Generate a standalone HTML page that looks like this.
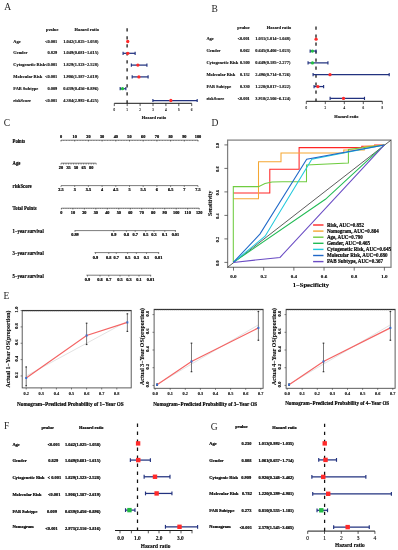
<!DOCTYPE html>
<html><head><meta charset="utf-8"><style>
html,body{margin:0;padding:0;background:#fff;}
svg{display:block;filter:blur(0.3px);}
text{font-family:"Liberation Serif",serif;stroke:#000;stroke-width:0.1px;}
</style></head><body>
<svg width="398" height="550" viewBox="0 0 398 550">
<rect width="398" height="550" fill="#fff"/>
<text x="4.3" y="9.5" font-size="9.5" font-weight="normal" fill="#222" style="stroke:none">A</text>
<text x="52.20" y="31.40" font-size="4.4" text-anchor="middle" font-weight="bold" fill="#000" >pvalue</text>
<text x="86.70" y="31.40" font-size="4.4" text-anchor="middle" font-weight="bold" fill="#000" >Hazard ratio</text>
<text x="13.30" y="42.60" font-size="4.4" text-anchor="start" font-weight="bold" fill="#000" >Age</text>
<text x="57.30" y="42.60" font-size="4.4" text-anchor="end" font-weight="bold" fill="#000" >&lt;0.001</text>
<text x="63.30" y="42.60" font-size="4.4" text-anchor="start" font-weight="bold" fill="#000" >1.042(1.025−1.058)</text>
<text x="13.30" y="54.40" font-size="4.4" text-anchor="start" font-weight="bold" fill="#000" >Gender</text>
<text x="57.30" y="54.40" font-size="4.4" text-anchor="end" font-weight="bold" fill="#000" >0.829</text>
<text x="63.30" y="54.40" font-size="4.4" text-anchor="start" font-weight="bold" fill="#000" >1.049(0.681−1.615)</text>
<text x="13.30" y="66.20" font-size="4.4" text-anchor="start" font-weight="bold" fill="#000" >Cytogenetic Risk</text>
<text x="57.30" y="66.20" font-size="4.4" text-anchor="end" font-weight="bold" fill="#000" >&lt;0.001</text>
<text x="63.30" y="66.20" font-size="4.4" text-anchor="start" font-weight="bold" fill="#000" >1.829(1.323−2.528)</text>
<text x="13.30" y="78.00" font-size="4.4" text-anchor="start" font-weight="bold" fill="#000" >Molecular Risk</text>
<text x="57.30" y="78.00" font-size="4.4" text-anchor="end" font-weight="bold" fill="#000" >&lt;0.001</text>
<text x="63.30" y="78.00" font-size="4.4" text-anchor="start" font-weight="bold" fill="#000" >1.906(1.387−2.619)</text>
<text x="13.30" y="89.80" font-size="4.4" text-anchor="start" font-weight="bold" fill="#000" >FAB Subtype</text>
<text x="57.30" y="89.80" font-size="4.4" text-anchor="end" font-weight="bold" fill="#000" >0.009</text>
<text x="63.30" y="89.80" font-size="4.4" text-anchor="start" font-weight="bold" fill="#000" >0.639(0.456−0.896)</text>
<text x="13.30" y="101.60" font-size="4.4" text-anchor="start" font-weight="bold" fill="#000" >riskScore</text>
<text x="57.30" y="101.60" font-size="4.4" text-anchor="end" font-weight="bold" fill="#000" >&lt;0.001</text>
<text x="63.30" y="101.60" font-size="4.4" text-anchor="start" font-weight="bold" fill="#000" >4.384(2.992−6.425)</text>
<line x1="127.10" y1="28.20" x2="127.10" y2="103.30" stroke="#111" stroke-width="1.25" stroke-dasharray="3.3,4.7"/>
<line x1="114.30" y1="103.30" x2="191.70" y2="103.30" stroke="#1a1a1a" stroke-width="1.0" />
<line x1="114.30" y1="103.30" x2="114.30" y2="106.10" stroke="#222" stroke-width="0.75" />
<line x1="127.20" y1="103.30" x2="127.20" y2="106.10" stroke="#222" stroke-width="0.75" />
<line x1="140.10" y1="103.30" x2="140.10" y2="106.10" stroke="#222" stroke-width="0.75" />
<line x1="153.00" y1="103.30" x2="153.00" y2="106.10" stroke="#222" stroke-width="0.75" />
<line x1="165.90" y1="103.30" x2="165.90" y2="106.10" stroke="#222" stroke-width="0.75" />
<line x1="178.80" y1="103.30" x2="178.80" y2="106.10" stroke="#222" stroke-width="0.75" />
<line x1="191.70" y1="103.30" x2="191.70" y2="106.10" stroke="#222" stroke-width="0.75" />
<text x="114.30" y="110.72" font-size="3.3" text-anchor="middle" font-weight="normal" fill="#000" >0</text>
<text x="127.20" y="110.72" font-size="3.3" text-anchor="middle" font-weight="normal" fill="#000" >1</text>
<text x="140.10" y="110.72" font-size="3.3" text-anchor="middle" font-weight="normal" fill="#000" >2</text>
<text x="153.00" y="110.72" font-size="3.3" text-anchor="middle" font-weight="normal" fill="#000" >3</text>
<text x="165.90" y="110.72" font-size="3.3" text-anchor="middle" font-weight="normal" fill="#000" >4</text>
<text x="178.80" y="110.72" font-size="3.3" text-anchor="middle" font-weight="normal" fill="#000" >5</text>
<text x="191.70" y="110.72" font-size="3.3" text-anchor="middle" font-weight="normal" fill="#000" >6</text>
<text x="154.00" y="119.10" font-size="4.4" text-anchor="middle" font-weight="bold" fill="#000" >Hazard ratio</text>
<circle cx="127.74" cy="41.50" r="1.65" fill="#ff2a2a"/>
<line x1="123.08" y1="53.30" x2="135.13" y2="53.30" stroke="#22327f" stroke-width="1.25" />
<line x1="123.08" y1="51.70" x2="123.08" y2="54.90" stroke="#22327f" stroke-width="1.15" />
<line x1="135.13" y1="51.70" x2="135.13" y2="54.90" stroke="#22327f" stroke-width="1.15" />
<circle cx="127.83" cy="53.30" r="1.65" fill="#ff2a2a"/>
<line x1="131.37" y1="65.10" x2="146.91" y2="65.10" stroke="#22327f" stroke-width="1.25" />
<line x1="131.37" y1="63.50" x2="131.37" y2="66.70" stroke="#22327f" stroke-width="1.15" />
<line x1="146.91" y1="63.50" x2="146.91" y2="66.70" stroke="#22327f" stroke-width="1.15" />
<circle cx="137.89" cy="65.10" r="1.65" fill="#ff2a2a"/>
<line x1="132.19" y1="76.90" x2="148.09" y2="76.90" stroke="#22327f" stroke-width="1.25" />
<line x1="132.19" y1="75.30" x2="132.19" y2="78.50" stroke="#22327f" stroke-width="1.15" />
<line x1="148.09" y1="75.30" x2="148.09" y2="78.50" stroke="#22327f" stroke-width="1.15" />
<circle cx="138.89" cy="76.90" r="1.65" fill="#ff2a2a"/>
<line x1="120.18" y1="88.70" x2="125.86" y2="88.70" stroke="#22327f" stroke-width="1.25" />
<line x1="120.18" y1="87.10" x2="120.18" y2="90.30" stroke="#22327f" stroke-width="1.15" />
<line x1="125.86" y1="87.10" x2="125.86" y2="90.30" stroke="#22327f" stroke-width="1.15" />
<circle cx="122.54" cy="88.70" r="1.65" fill="#22bb44"/>
<line x1="152.90" y1="100.50" x2="197.18" y2="100.50" stroke="#22327f" stroke-width="1.25" />
<line x1="152.90" y1="98.90" x2="152.90" y2="102.10" stroke="#22327f" stroke-width="1.15" />
<line x1="197.18" y1="98.90" x2="197.18" y2="102.10" stroke="#22327f" stroke-width="1.15" />
<circle cx="170.85" cy="100.50" r="1.65" fill="#ff2a2a"/>
<text x="211.6" y="11.8" font-size="9.5" font-weight="normal" fill="#222" style="stroke:none">B</text>
<text x="243.50" y="28.50" font-size="4.4" text-anchor="middle" font-weight="bold" fill="#000" >pvalue</text>
<text x="279.00" y="28.50" font-size="4.4" text-anchor="middle" font-weight="bold" fill="#000" >Hazard ratio</text>
<text x="206.40" y="40.30" font-size="4.4" text-anchor="start" font-weight="bold" fill="#000" >Age</text>
<text x="249.80" y="40.30" font-size="4.4" text-anchor="end" font-weight="bold" fill="#000" >&lt;0.001</text>
<text x="255.30" y="40.30" font-size="4.4" text-anchor="start" font-weight="bold" fill="#000" >1.031(1.014−1.048)</text>
<text x="206.40" y="52.14" font-size="4.4" text-anchor="start" font-weight="bold" fill="#000" >Gender</text>
<text x="249.80" y="52.14" font-size="4.4" text-anchor="end" font-weight="bold" fill="#000" >0.062</text>
<text x="255.30" y="52.14" font-size="4.4" text-anchor="start" font-weight="bold" fill="#000" >0.645(0.406−1.023)</text>
<text x="206.40" y="63.98" font-size="4.4" text-anchor="start" font-weight="bold" fill="#000" >Cytogenetic Risk</text>
<text x="249.80" y="63.98" font-size="4.4" text-anchor="end" font-weight="bold" fill="#000" >0.500</text>
<text x="255.30" y="63.98" font-size="4.4" text-anchor="start" font-weight="bold" fill="#000" >0.649(0.185−2.277)</text>
<text x="206.40" y="75.82" font-size="4.4" text-anchor="start" font-weight="bold" fill="#000" >Molecular Risk</text>
<text x="249.80" y="75.82" font-size="4.4" text-anchor="end" font-weight="bold" fill="#000" >0.152</text>
<text x="255.30" y="75.82" font-size="4.4" text-anchor="start" font-weight="bold" fill="#000" >2.496(0.714−8.726)</text>
<text x="206.40" y="87.66" font-size="4.4" text-anchor="start" font-weight="bold" fill="#000" >FAB Subtype</text>
<text x="249.80" y="87.66" font-size="4.4" text-anchor="end" font-weight="bold" fill="#000" >0.330</text>
<text x="255.30" y="87.66" font-size="4.4" text-anchor="start" font-weight="bold" fill="#000" >1.220(0.817−1.822)</text>
<text x="206.40" y="99.50" font-size="4.4" text-anchor="start" font-weight="bold" fill="#000" >riskScore</text>
<text x="249.80" y="99.50" font-size="4.4" text-anchor="end" font-weight="bold" fill="#000" >&lt;0.001</text>
<text x="255.30" y="99.50" font-size="4.4" text-anchor="start" font-weight="bold" fill="#000" >3.918(2.506−6.124)</text>
<line x1="316.00" y1="26.40" x2="316.00" y2="101.30" stroke="#111" stroke-width="1.25" stroke-dasharray="3.3,4.7"/>
<line x1="306.30" y1="101.30" x2="382.30" y2="101.30" stroke="#1a1a1a" stroke-width="1.0" />
<line x1="306.30" y1="101.30" x2="306.30" y2="104.10" stroke="#222" stroke-width="0.75" />
<line x1="325.30" y1="101.30" x2="325.30" y2="104.10" stroke="#222" stroke-width="0.75" />
<line x1="344.30" y1="101.30" x2="344.30" y2="104.10" stroke="#222" stroke-width="0.75" />
<line x1="363.30" y1="101.30" x2="363.30" y2="104.10" stroke="#222" stroke-width="0.75" />
<line x1="382.30" y1="101.30" x2="382.30" y2="104.10" stroke="#222" stroke-width="0.75" />
<text x="306.30" y="108.52" font-size="3.3" text-anchor="middle" font-weight="normal" fill="#000" >0</text>
<text x="325.30" y="108.52" font-size="3.3" text-anchor="middle" font-weight="normal" fill="#000" >2</text>
<text x="344.30" y="108.52" font-size="3.3" text-anchor="middle" font-weight="normal" fill="#000" >4</text>
<text x="363.30" y="108.52" font-size="3.3" text-anchor="middle" font-weight="normal" fill="#000" >6</text>
<text x="382.30" y="108.52" font-size="3.3" text-anchor="middle" font-weight="normal" fill="#000" >8</text>
<text x="346.40" y="117.60" font-size="4.4" text-anchor="middle" font-weight="bold" fill="#000" >Hazard ratio</text>
<circle cx="316.09" cy="39.20" r="1.65" fill="#ff2a2a"/>
<line x1="310.16" y1="51.04" x2="316.02" y2="51.04" stroke="#22327f" stroke-width="1.25" />
<line x1="310.16" y1="49.44" x2="310.16" y2="52.64" stroke="#22327f" stroke-width="1.15" />
<line x1="316.02" y1="49.44" x2="316.02" y2="52.64" stroke="#22327f" stroke-width="1.15" />
<circle cx="312.43" cy="51.04" r="1.65" fill="#22bb44"/>
<line x1="308.06" y1="62.88" x2="327.93" y2="62.88" stroke="#22327f" stroke-width="1.25" />
<line x1="308.06" y1="61.28" x2="308.06" y2="64.48" stroke="#22327f" stroke-width="1.15" />
<line x1="327.93" y1="61.28" x2="327.93" y2="64.48" stroke="#22327f" stroke-width="1.15" />
<circle cx="312.47" cy="62.88" r="1.65" fill="#22bb44"/>
<line x1="313.08" y1="74.72" x2="389.20" y2="74.72" stroke="#22327f" stroke-width="1.25" />
<line x1="313.08" y1="73.12" x2="313.08" y2="76.32" stroke="#22327f" stroke-width="1.15" />
<line x1="389.20" y1="73.12" x2="389.20" y2="76.32" stroke="#22327f" stroke-width="1.15" />
<circle cx="330.01" cy="74.72" r="1.65" fill="#ff2a2a"/>
<line x1="314.06" y1="86.56" x2="323.61" y2="86.56" stroke="#22327f" stroke-width="1.25" />
<line x1="314.06" y1="84.96" x2="314.06" y2="88.16" stroke="#22327f" stroke-width="1.15" />
<line x1="323.61" y1="84.96" x2="323.61" y2="88.16" stroke="#22327f" stroke-width="1.15" />
<circle cx="317.89" cy="86.56" r="1.65" fill="#ff2a2a"/>
<line x1="330.11" y1="98.40" x2="364.48" y2="98.40" stroke="#22327f" stroke-width="1.25" />
<line x1="330.11" y1="96.80" x2="330.11" y2="100.00" stroke="#22327f" stroke-width="1.15" />
<line x1="364.48" y1="96.80" x2="364.48" y2="100.00" stroke="#22327f" stroke-width="1.15" />
<circle cx="343.52" cy="98.40" r="1.65" fill="#ff2a2a"/>
<text x="3.8" y="126.3" font-size="9.5" font-weight="normal" fill="#222" style="stroke:none">C</text>
<text transform="translate(12.6 143.10) scale(1 1.2)" font-size="4.7" font-weight="bold" style="stroke-width:0.15px">Points</text>
<line x1="61.00" y1="140.20" x2="198.00" y2="140.20" stroke="#222" stroke-width="0.6" />
<line x1="61.00" y1="140.20" x2="61.00" y2="141.60" stroke="#222" stroke-width="0.5" />
<line x1="74.70" y1="140.20" x2="74.70" y2="141.60" stroke="#222" stroke-width="0.5" />
<line x1="88.40" y1="140.20" x2="88.40" y2="141.60" stroke="#222" stroke-width="0.5" />
<line x1="102.10" y1="140.20" x2="102.10" y2="141.60" stroke="#222" stroke-width="0.5" />
<line x1="115.80" y1="140.20" x2="115.80" y2="141.60" stroke="#222" stroke-width="0.5" />
<line x1="129.50" y1="140.20" x2="129.50" y2="141.60" stroke="#222" stroke-width="0.5" />
<line x1="143.20" y1="140.20" x2="143.20" y2="141.60" stroke="#222" stroke-width="0.5" />
<line x1="156.90" y1="140.20" x2="156.90" y2="141.60" stroke="#222" stroke-width="0.5" />
<line x1="170.60" y1="140.20" x2="170.60" y2="141.60" stroke="#222" stroke-width="0.5" />
<line x1="184.30" y1="140.20" x2="184.30" y2="141.60" stroke="#222" stroke-width="0.5" />
<line x1="198.00" y1="140.20" x2="198.00" y2="141.60" stroke="#222" stroke-width="0.5" />
<line x1="61.00" y1="140.20" x2="61.00" y2="141.00" stroke="#222" stroke-width="0.4" />
<line x1="63.74" y1="140.20" x2="63.74" y2="141.00" stroke="#222" stroke-width="0.4" />
<line x1="66.48" y1="140.20" x2="66.48" y2="141.00" stroke="#222" stroke-width="0.4" />
<line x1="69.22" y1="140.20" x2="69.22" y2="141.00" stroke="#222" stroke-width="0.4" />
<line x1="71.96" y1="140.20" x2="71.96" y2="141.00" stroke="#222" stroke-width="0.4" />
<line x1="74.70" y1="140.20" x2="74.70" y2="141.00" stroke="#222" stroke-width="0.4" />
<line x1="77.44" y1="140.20" x2="77.44" y2="141.00" stroke="#222" stroke-width="0.4" />
<line x1="80.18" y1="140.20" x2="80.18" y2="141.00" stroke="#222" stroke-width="0.4" />
<line x1="82.92" y1="140.20" x2="82.92" y2="141.00" stroke="#222" stroke-width="0.4" />
<line x1="85.66" y1="140.20" x2="85.66" y2="141.00" stroke="#222" stroke-width="0.4" />
<line x1="88.40" y1="140.20" x2="88.40" y2="141.00" stroke="#222" stroke-width="0.4" />
<line x1="91.14" y1="140.20" x2="91.14" y2="141.00" stroke="#222" stroke-width="0.4" />
<line x1="93.88" y1="140.20" x2="93.88" y2="141.00" stroke="#222" stroke-width="0.4" />
<line x1="96.62" y1="140.20" x2="96.62" y2="141.00" stroke="#222" stroke-width="0.4" />
<line x1="99.36" y1="140.20" x2="99.36" y2="141.00" stroke="#222" stroke-width="0.4" />
<line x1="102.10" y1="140.20" x2="102.10" y2="141.00" stroke="#222" stroke-width="0.4" />
<line x1="104.84" y1="140.20" x2="104.84" y2="141.00" stroke="#222" stroke-width="0.4" />
<line x1="107.58" y1="140.20" x2="107.58" y2="141.00" stroke="#222" stroke-width="0.4" />
<line x1="110.32" y1="140.20" x2="110.32" y2="141.00" stroke="#222" stroke-width="0.4" />
<line x1="113.06" y1="140.20" x2="113.06" y2="141.00" stroke="#222" stroke-width="0.4" />
<line x1="115.80" y1="140.20" x2="115.80" y2="141.00" stroke="#222" stroke-width="0.4" />
<line x1="118.54" y1="140.20" x2="118.54" y2="141.00" stroke="#222" stroke-width="0.4" />
<line x1="121.28" y1="140.20" x2="121.28" y2="141.00" stroke="#222" stroke-width="0.4" />
<line x1="124.02" y1="140.20" x2="124.02" y2="141.00" stroke="#222" stroke-width="0.4" />
<line x1="126.76" y1="140.20" x2="126.76" y2="141.00" stroke="#222" stroke-width="0.4" />
<line x1="129.50" y1="140.20" x2="129.50" y2="141.00" stroke="#222" stroke-width="0.4" />
<line x1="132.24" y1="140.20" x2="132.24" y2="141.00" stroke="#222" stroke-width="0.4" />
<line x1="134.98" y1="140.20" x2="134.98" y2="141.00" stroke="#222" stroke-width="0.4" />
<line x1="137.72" y1="140.20" x2="137.72" y2="141.00" stroke="#222" stroke-width="0.4" />
<line x1="140.46" y1="140.20" x2="140.46" y2="141.00" stroke="#222" stroke-width="0.4" />
<line x1="143.20" y1="140.20" x2="143.20" y2="141.00" stroke="#222" stroke-width="0.4" />
<line x1="145.94" y1="140.20" x2="145.94" y2="141.00" stroke="#222" stroke-width="0.4" />
<line x1="148.68" y1="140.20" x2="148.68" y2="141.00" stroke="#222" stroke-width="0.4" />
<line x1="151.42" y1="140.20" x2="151.42" y2="141.00" stroke="#222" stroke-width="0.4" />
<line x1="154.16" y1="140.20" x2="154.16" y2="141.00" stroke="#222" stroke-width="0.4" />
<line x1="156.90" y1="140.20" x2="156.90" y2="141.00" stroke="#222" stroke-width="0.4" />
<line x1="159.64" y1="140.20" x2="159.64" y2="141.00" stroke="#222" stroke-width="0.4" />
<line x1="162.38" y1="140.20" x2="162.38" y2="141.00" stroke="#222" stroke-width="0.4" />
<line x1="165.12" y1="140.20" x2="165.12" y2="141.00" stroke="#222" stroke-width="0.4" />
<line x1="167.86" y1="140.20" x2="167.86" y2="141.00" stroke="#222" stroke-width="0.4" />
<line x1="170.60" y1="140.20" x2="170.60" y2="141.00" stroke="#222" stroke-width="0.4" />
<line x1="173.34" y1="140.20" x2="173.34" y2="141.00" stroke="#222" stroke-width="0.4" />
<line x1="176.08" y1="140.20" x2="176.08" y2="141.00" stroke="#222" stroke-width="0.4" />
<line x1="178.82" y1="140.20" x2="178.82" y2="141.00" stroke="#222" stroke-width="0.4" />
<line x1="181.56" y1="140.20" x2="181.56" y2="141.00" stroke="#222" stroke-width="0.4" />
<line x1="184.30" y1="140.20" x2="184.30" y2="141.00" stroke="#222" stroke-width="0.4" />
<line x1="187.04" y1="140.20" x2="187.04" y2="141.00" stroke="#222" stroke-width="0.4" />
<line x1="189.78" y1="140.20" x2="189.78" y2="141.00" stroke="#222" stroke-width="0.4" />
<line x1="192.52" y1="140.20" x2="192.52" y2="141.00" stroke="#222" stroke-width="0.4" />
<line x1="195.26" y1="140.20" x2="195.26" y2="141.00" stroke="#222" stroke-width="0.4" />
<line x1="198.00" y1="140.20" x2="198.00" y2="141.00" stroke="#222" stroke-width="0.4" />
<text transform="translate(61.00 138.20) scale(1 1.15)" font-size="4.3" font-weight="bold" text-anchor="middle" style="stroke-width:0.2px">0</text>
<text transform="translate(74.70 138.20) scale(1 1.15)" font-size="4.3" font-weight="bold" text-anchor="middle" style="stroke-width:0.2px">10</text>
<text transform="translate(88.40 138.20) scale(1 1.15)" font-size="4.3" font-weight="bold" text-anchor="middle" style="stroke-width:0.2px">20</text>
<text transform="translate(102.10 138.20) scale(1 1.15)" font-size="4.3" font-weight="bold" text-anchor="middle" style="stroke-width:0.2px">30</text>
<text transform="translate(115.80 138.20) scale(1 1.15)" font-size="4.3" font-weight="bold" text-anchor="middle" style="stroke-width:0.2px">40</text>
<text transform="translate(129.50 138.20) scale(1 1.15)" font-size="4.3" font-weight="bold" text-anchor="middle" style="stroke-width:0.2px">50</text>
<text transform="translate(143.20 138.20) scale(1 1.15)" font-size="4.3" font-weight="bold" text-anchor="middle" style="stroke-width:0.2px">60</text>
<text transform="translate(156.90 138.20) scale(1 1.15)" font-size="4.3" font-weight="bold" text-anchor="middle" style="stroke-width:0.2px">70</text>
<text transform="translate(170.60 138.20) scale(1 1.15)" font-size="4.3" font-weight="bold" text-anchor="middle" style="stroke-width:0.2px">80</text>
<text transform="translate(184.30 138.20) scale(1 1.15)" font-size="4.3" font-weight="bold" text-anchor="middle" style="stroke-width:0.2px">90</text>
<text transform="translate(198.00 138.20) scale(1 1.15)" font-size="4.3" font-weight="bold" text-anchor="middle" style="stroke-width:0.2px">100</text>
<text transform="translate(12.6 165.30) scale(1 1.2)" font-size="4.7" font-weight="bold" style="stroke-width:0.15px">Age</text>
<line x1="61.00" y1="163.20" x2="96.21" y2="163.20" stroke="#222" stroke-width="0.6" />
<line x1="61.00" y1="163.20" x2="61.00" y2="164.60" stroke="#222" stroke-width="0.5" />
<line x1="63.52" y1="163.20" x2="63.52" y2="164.60" stroke="#222" stroke-width="0.5" />
<line x1="66.03" y1="163.20" x2="66.03" y2="164.60" stroke="#222" stroke-width="0.5" />
<line x1="68.55" y1="163.20" x2="68.55" y2="164.60" stroke="#222" stroke-width="0.5" />
<line x1="71.06" y1="163.20" x2="71.06" y2="164.60" stroke="#222" stroke-width="0.5" />
<line x1="73.58" y1="163.20" x2="73.58" y2="164.60" stroke="#222" stroke-width="0.5" />
<line x1="76.09" y1="163.20" x2="76.09" y2="164.60" stroke="#222" stroke-width="0.5" />
<line x1="78.61" y1="163.20" x2="78.61" y2="164.60" stroke="#222" stroke-width="0.5" />
<line x1="81.12" y1="163.20" x2="81.12" y2="164.60" stroke="#222" stroke-width="0.5" />
<line x1="83.64" y1="163.20" x2="83.64" y2="164.60" stroke="#222" stroke-width="0.5" />
<line x1="86.15" y1="163.20" x2="86.15" y2="164.60" stroke="#222" stroke-width="0.5" />
<line x1="88.67" y1="163.20" x2="88.67" y2="164.60" stroke="#222" stroke-width="0.5" />
<line x1="91.18" y1="163.20" x2="91.18" y2="164.60" stroke="#222" stroke-width="0.5" />
<line x1="93.69" y1="163.20" x2="93.69" y2="164.60" stroke="#222" stroke-width="0.5" />
<line x1="96.21" y1="163.20" x2="96.21" y2="164.60" stroke="#222" stroke-width="0.5" />
<text transform="translate(61.00 169.20) scale(1 1.15)" font-size="4.3" font-weight="bold" text-anchor="middle" style="stroke-width:0.2px">20</text>
<text transform="translate(68.55 169.20) scale(1 1.15)" font-size="4.3" font-weight="bold" text-anchor="middle" style="stroke-width:0.2px">35</text>
<text transform="translate(76.09 169.20) scale(1 1.15)" font-size="4.3" font-weight="bold" text-anchor="middle" style="stroke-width:0.2px">50</text>
<text transform="translate(83.64 169.20) scale(1 1.15)" font-size="4.3" font-weight="bold" text-anchor="middle" style="stroke-width:0.2px">65</text>
<text transform="translate(91.18 169.20) scale(1 1.15)" font-size="4.3" font-weight="bold" text-anchor="middle" style="stroke-width:0.2px">80</text>
<text transform="translate(12.6 188.00) scale(1 1.2)" font-size="4.7" font-weight="bold" style="stroke-width:0.15px">riskScore</text>
<line x1="61.00" y1="185.60" x2="198.00" y2="185.60" stroke="#222" stroke-width="0.6" />
<line x1="61.00" y1="185.60" x2="61.00" y2="187.00" stroke="#222" stroke-width="0.5" />
<line x1="74.70" y1="185.60" x2="74.70" y2="187.00" stroke="#222" stroke-width="0.5" />
<line x1="88.40" y1="185.60" x2="88.40" y2="187.00" stroke="#222" stroke-width="0.5" />
<line x1="102.10" y1="185.60" x2="102.10" y2="187.00" stroke="#222" stroke-width="0.5" />
<line x1="115.80" y1="185.60" x2="115.80" y2="187.00" stroke="#222" stroke-width="0.5" />
<line x1="129.50" y1="185.60" x2="129.50" y2="187.00" stroke="#222" stroke-width="0.5" />
<line x1="143.20" y1="185.60" x2="143.20" y2="187.00" stroke="#222" stroke-width="0.5" />
<line x1="156.90" y1="185.60" x2="156.90" y2="187.00" stroke="#222" stroke-width="0.5" />
<line x1="170.60" y1="185.60" x2="170.60" y2="187.00" stroke="#222" stroke-width="0.5" />
<line x1="184.30" y1="185.60" x2="184.30" y2="187.00" stroke="#222" stroke-width="0.5" />
<line x1="198.00" y1="185.60" x2="198.00" y2="187.00" stroke="#222" stroke-width="0.5" />
<text transform="translate(61.00 191.40) scale(1 1.15)" font-size="4.3" font-weight="bold" text-anchor="middle" style="stroke-width:0.2px">2.5</text>
<text transform="translate(74.70 191.40) scale(1 1.15)" font-size="4.3" font-weight="bold" text-anchor="middle" style="stroke-width:0.2px">3</text>
<text transform="translate(88.40 191.40) scale(1 1.15)" font-size="4.3" font-weight="bold" text-anchor="middle" style="stroke-width:0.2px">3.5</text>
<text transform="translate(102.10 191.40) scale(1 1.15)" font-size="4.3" font-weight="bold" text-anchor="middle" style="stroke-width:0.2px">4</text>
<text transform="translate(115.80 191.40) scale(1 1.15)" font-size="4.3" font-weight="bold" text-anchor="middle" style="stroke-width:0.2px">4.5</text>
<text transform="translate(129.50 191.40) scale(1 1.15)" font-size="4.3" font-weight="bold" text-anchor="middle" style="stroke-width:0.2px">5</text>
<text transform="translate(143.20 191.40) scale(1 1.15)" font-size="4.3" font-weight="bold" text-anchor="middle" style="stroke-width:0.2px">5.5</text>
<text transform="translate(156.90 191.40) scale(1 1.15)" font-size="4.3" font-weight="bold" text-anchor="middle" style="stroke-width:0.2px">6</text>
<text transform="translate(170.60 191.40) scale(1 1.15)" font-size="4.3" font-weight="bold" text-anchor="middle" style="stroke-width:0.2px">6.5</text>
<text transform="translate(184.30 191.40) scale(1 1.15)" font-size="4.3" font-weight="bold" text-anchor="middle" style="stroke-width:0.2px">7</text>
<text transform="translate(198.00 191.40) scale(1 1.15)" font-size="4.3" font-weight="bold" text-anchor="middle" style="stroke-width:0.2px">7.5</text>
<text transform="translate(12.6 210.30) scale(1 1.2)" font-size="4.7" font-weight="bold" style="stroke-width:0.15px">Total Points</text>
<line x1="61.40" y1="208.20" x2="199.16" y2="208.20" stroke="#222" stroke-width="0.6" />
<line x1="61.40" y1="208.20" x2="61.40" y2="209.60" stroke="#222" stroke-width="0.5" />
<line x1="72.88" y1="208.20" x2="72.88" y2="209.60" stroke="#222" stroke-width="0.5" />
<line x1="84.36" y1="208.20" x2="84.36" y2="209.60" stroke="#222" stroke-width="0.5" />
<line x1="95.84" y1="208.20" x2="95.84" y2="209.60" stroke="#222" stroke-width="0.5" />
<line x1="107.32" y1="208.20" x2="107.32" y2="209.60" stroke="#222" stroke-width="0.5" />
<line x1="118.80" y1="208.20" x2="118.80" y2="209.60" stroke="#222" stroke-width="0.5" />
<line x1="130.28" y1="208.20" x2="130.28" y2="209.60" stroke="#222" stroke-width="0.5" />
<line x1="141.76" y1="208.20" x2="141.76" y2="209.60" stroke="#222" stroke-width="0.5" />
<line x1="153.24" y1="208.20" x2="153.24" y2="209.60" stroke="#222" stroke-width="0.5" />
<line x1="164.72" y1="208.20" x2="164.72" y2="209.60" stroke="#222" stroke-width="0.5" />
<line x1="176.20" y1="208.20" x2="176.20" y2="209.60" stroke="#222" stroke-width="0.5" />
<line x1="187.68" y1="208.20" x2="187.68" y2="209.60" stroke="#222" stroke-width="0.5" />
<line x1="199.16" y1="208.20" x2="199.16" y2="209.60" stroke="#222" stroke-width="0.5" />
<line x1="61.40" y1="208.20" x2="61.40" y2="209.00" stroke="#222" stroke-width="0.4" />
<line x1="63.70" y1="208.20" x2="63.70" y2="209.00" stroke="#222" stroke-width="0.4" />
<line x1="65.99" y1="208.20" x2="65.99" y2="209.00" stroke="#222" stroke-width="0.4" />
<line x1="68.29" y1="208.20" x2="68.29" y2="209.00" stroke="#222" stroke-width="0.4" />
<line x1="70.58" y1="208.20" x2="70.58" y2="209.00" stroke="#222" stroke-width="0.4" />
<line x1="72.88" y1="208.20" x2="72.88" y2="209.00" stroke="#222" stroke-width="0.4" />
<line x1="75.18" y1="208.20" x2="75.18" y2="209.00" stroke="#222" stroke-width="0.4" />
<line x1="77.47" y1="208.20" x2="77.47" y2="209.00" stroke="#222" stroke-width="0.4" />
<line x1="79.77" y1="208.20" x2="79.77" y2="209.00" stroke="#222" stroke-width="0.4" />
<line x1="82.06" y1="208.20" x2="82.06" y2="209.00" stroke="#222" stroke-width="0.4" />
<line x1="84.36" y1="208.20" x2="84.36" y2="209.00" stroke="#222" stroke-width="0.4" />
<line x1="86.66" y1="208.20" x2="86.66" y2="209.00" stroke="#222" stroke-width="0.4" />
<line x1="88.95" y1="208.20" x2="88.95" y2="209.00" stroke="#222" stroke-width="0.4" />
<line x1="91.25" y1="208.20" x2="91.25" y2="209.00" stroke="#222" stroke-width="0.4" />
<line x1="93.54" y1="208.20" x2="93.54" y2="209.00" stroke="#222" stroke-width="0.4" />
<line x1="95.84" y1="208.20" x2="95.84" y2="209.00" stroke="#222" stroke-width="0.4" />
<line x1="98.14" y1="208.20" x2="98.14" y2="209.00" stroke="#222" stroke-width="0.4" />
<line x1="100.43" y1="208.20" x2="100.43" y2="209.00" stroke="#222" stroke-width="0.4" />
<line x1="102.73" y1="208.20" x2="102.73" y2="209.00" stroke="#222" stroke-width="0.4" />
<line x1="105.02" y1="208.20" x2="105.02" y2="209.00" stroke="#222" stroke-width="0.4" />
<line x1="107.32" y1="208.20" x2="107.32" y2="209.00" stroke="#222" stroke-width="0.4" />
<line x1="109.62" y1="208.20" x2="109.62" y2="209.00" stroke="#222" stroke-width="0.4" />
<line x1="111.91" y1="208.20" x2="111.91" y2="209.00" stroke="#222" stroke-width="0.4" />
<line x1="114.21" y1="208.20" x2="114.21" y2="209.00" stroke="#222" stroke-width="0.4" />
<line x1="116.50" y1="208.20" x2="116.50" y2="209.00" stroke="#222" stroke-width="0.4" />
<line x1="118.80" y1="208.20" x2="118.80" y2="209.00" stroke="#222" stroke-width="0.4" />
<line x1="121.10" y1="208.20" x2="121.10" y2="209.00" stroke="#222" stroke-width="0.4" />
<line x1="123.39" y1="208.20" x2="123.39" y2="209.00" stroke="#222" stroke-width="0.4" />
<line x1="125.69" y1="208.20" x2="125.69" y2="209.00" stroke="#222" stroke-width="0.4" />
<line x1="127.98" y1="208.20" x2="127.98" y2="209.00" stroke="#222" stroke-width="0.4" />
<line x1="130.28" y1="208.20" x2="130.28" y2="209.00" stroke="#222" stroke-width="0.4" />
<line x1="132.58" y1="208.20" x2="132.58" y2="209.00" stroke="#222" stroke-width="0.4" />
<line x1="134.87" y1="208.20" x2="134.87" y2="209.00" stroke="#222" stroke-width="0.4" />
<line x1="137.17" y1="208.20" x2="137.17" y2="209.00" stroke="#222" stroke-width="0.4" />
<line x1="139.46" y1="208.20" x2="139.46" y2="209.00" stroke="#222" stroke-width="0.4" />
<line x1="141.76" y1="208.20" x2="141.76" y2="209.00" stroke="#222" stroke-width="0.4" />
<line x1="144.06" y1="208.20" x2="144.06" y2="209.00" stroke="#222" stroke-width="0.4" />
<line x1="146.35" y1="208.20" x2="146.35" y2="209.00" stroke="#222" stroke-width="0.4" />
<line x1="148.65" y1="208.20" x2="148.65" y2="209.00" stroke="#222" stroke-width="0.4" />
<line x1="150.94" y1="208.20" x2="150.94" y2="209.00" stroke="#222" stroke-width="0.4" />
<line x1="153.24" y1="208.20" x2="153.24" y2="209.00" stroke="#222" stroke-width="0.4" />
<line x1="155.54" y1="208.20" x2="155.54" y2="209.00" stroke="#222" stroke-width="0.4" />
<line x1="157.83" y1="208.20" x2="157.83" y2="209.00" stroke="#222" stroke-width="0.4" />
<line x1="160.13" y1="208.20" x2="160.13" y2="209.00" stroke="#222" stroke-width="0.4" />
<line x1="162.42" y1="208.20" x2="162.42" y2="209.00" stroke="#222" stroke-width="0.4" />
<line x1="164.72" y1="208.20" x2="164.72" y2="209.00" stroke="#222" stroke-width="0.4" />
<line x1="167.02" y1="208.20" x2="167.02" y2="209.00" stroke="#222" stroke-width="0.4" />
<line x1="169.31" y1="208.20" x2="169.31" y2="209.00" stroke="#222" stroke-width="0.4" />
<line x1="171.61" y1="208.20" x2="171.61" y2="209.00" stroke="#222" stroke-width="0.4" />
<line x1="173.90" y1="208.20" x2="173.90" y2="209.00" stroke="#222" stroke-width="0.4" />
<line x1="176.20" y1="208.20" x2="176.20" y2="209.00" stroke="#222" stroke-width="0.4" />
<line x1="178.50" y1="208.20" x2="178.50" y2="209.00" stroke="#222" stroke-width="0.4" />
<line x1="180.79" y1="208.20" x2="180.79" y2="209.00" stroke="#222" stroke-width="0.4" />
<line x1="183.09" y1="208.20" x2="183.09" y2="209.00" stroke="#222" stroke-width="0.4" />
<line x1="185.38" y1="208.20" x2="185.38" y2="209.00" stroke="#222" stroke-width="0.4" />
<line x1="187.68" y1="208.20" x2="187.68" y2="209.00" stroke="#222" stroke-width="0.4" />
<line x1="189.98" y1="208.20" x2="189.98" y2="209.00" stroke="#222" stroke-width="0.4" />
<line x1="192.27" y1="208.20" x2="192.27" y2="209.00" stroke="#222" stroke-width="0.4" />
<line x1="194.57" y1="208.20" x2="194.57" y2="209.00" stroke="#222" stroke-width="0.4" />
<line x1="196.86" y1="208.20" x2="196.86" y2="209.00" stroke="#222" stroke-width="0.4" />
<line x1="199.16" y1="208.20" x2="199.16" y2="209.00" stroke="#222" stroke-width="0.4" />
<text transform="translate(61.40 213.90) scale(1 1.15)" font-size="4.3" font-weight="bold" text-anchor="middle" style="stroke-width:0.2px">0</text>
<text transform="translate(72.88 213.90) scale(1 1.15)" font-size="4.3" font-weight="bold" text-anchor="middle" style="stroke-width:0.2px">10</text>
<text transform="translate(84.36 213.90) scale(1 1.15)" font-size="4.3" font-weight="bold" text-anchor="middle" style="stroke-width:0.2px">20</text>
<text transform="translate(95.84 213.90) scale(1 1.15)" font-size="4.3" font-weight="bold" text-anchor="middle" style="stroke-width:0.2px">30</text>
<text transform="translate(107.32 213.90) scale(1 1.15)" font-size="4.3" font-weight="bold" text-anchor="middle" style="stroke-width:0.2px">40</text>
<text transform="translate(118.80 213.90) scale(1 1.15)" font-size="4.3" font-weight="bold" text-anchor="middle" style="stroke-width:0.2px">50</text>
<text transform="translate(130.28 213.90) scale(1 1.15)" font-size="4.3" font-weight="bold" text-anchor="middle" style="stroke-width:0.2px">60</text>
<text transform="translate(141.76 213.90) scale(1 1.15)" font-size="4.3" font-weight="bold" text-anchor="middle" style="stroke-width:0.2px">70</text>
<text transform="translate(153.24 213.90) scale(1 1.15)" font-size="4.3" font-weight="bold" text-anchor="middle" style="stroke-width:0.2px">80</text>
<text transform="translate(164.72 213.90) scale(1 1.15)" font-size="4.3" font-weight="bold" text-anchor="middle" style="stroke-width:0.2px">90</text>
<text transform="translate(176.20 213.90) scale(1 1.15)" font-size="4.3" font-weight="bold" text-anchor="middle" style="stroke-width:0.2px">100</text>
<text transform="translate(187.68 213.90) scale(1 1.15)" font-size="4.3" font-weight="bold" text-anchor="middle" style="stroke-width:0.2px">110</text>
<text transform="translate(199.16 213.90) scale(1 1.15)" font-size="4.3" font-weight="bold" text-anchor="middle" style="stroke-width:0.2px">120</text>
<text transform="translate(12.6 232.60) scale(1 1.2)" font-size="4.7" font-weight="bold" style="stroke-width:0.15px">1−year survival</text>
<line x1="74.60" y1="230.60" x2="176.00" y2="230.60" stroke="#222" stroke-width="0.6" />
<line x1="75.00" y1="230.60" x2="75.00" y2="232.00" stroke="#222" stroke-width="0.5" />
<line x1="113.80" y1="230.60" x2="113.80" y2="232.00" stroke="#222" stroke-width="0.5" />
<line x1="126.40" y1="230.60" x2="126.40" y2="232.00" stroke="#222" stroke-width="0.5" />
<line x1="135.20" y1="230.60" x2="135.20" y2="232.00" stroke="#222" stroke-width="0.5" />
<line x1="145.70" y1="230.60" x2="145.70" y2="232.00" stroke="#222" stroke-width="0.5" />
<line x1="154.00" y1="230.60" x2="154.00" y2="232.00" stroke="#222" stroke-width="0.5" />
<line x1="164.80" y1="230.60" x2="164.80" y2="232.00" stroke="#222" stroke-width="0.5" />
<line x1="175.40" y1="230.60" x2="175.40" y2="232.00" stroke="#222" stroke-width="0.5" />
<text transform="translate(75.00 236.40) scale(1 1.15)" font-size="4.3" font-weight="bold" text-anchor="middle" style="stroke-width:0.2px">0.99</text>
<text transform="translate(113.80 236.40) scale(1 1.15)" font-size="4.3" font-weight="bold" text-anchor="middle" style="stroke-width:0.2px">0.9</text>
<text transform="translate(126.40 236.40) scale(1 1.15)" font-size="4.3" font-weight="bold" text-anchor="middle" style="stroke-width:0.2px">0.8</text>
<text transform="translate(135.20 236.40) scale(1 1.15)" font-size="4.3" font-weight="bold" text-anchor="middle" style="stroke-width:0.2px">0.7</text>
<text transform="translate(145.70 236.40) scale(1 1.15)" font-size="4.3" font-weight="bold" text-anchor="middle" style="stroke-width:0.2px">0.5</text>
<text transform="translate(154.00 236.40) scale(1 1.15)" font-size="4.3" font-weight="bold" text-anchor="middle" style="stroke-width:0.2px">0.3</text>
<text transform="translate(164.80 236.40) scale(1 1.15)" font-size="4.3" font-weight="bold" text-anchor="middle" style="stroke-width:0.2px">0.1</text>
<text transform="translate(175.40 236.40) scale(1 1.15)" font-size="4.3" font-weight="bold" text-anchor="middle" style="stroke-width:0.2px">0.01</text>
<text transform="translate(12.6 255.30) scale(1 1.2)" font-size="4.7" font-weight="bold" style="stroke-width:0.15px">3−year survival</text>
<line x1="94.50" y1="252.60" x2="159.20" y2="252.60" stroke="#222" stroke-width="0.6" />
<line x1="95.50" y1="252.60" x2="95.50" y2="254.00" stroke="#222" stroke-width="0.5" />
<line x1="108.80" y1="252.60" x2="108.80" y2="254.00" stroke="#222" stroke-width="0.5" />
<line x1="116.30" y1="252.60" x2="116.30" y2="254.00" stroke="#222" stroke-width="0.5" />
<line x1="127.60" y1="252.60" x2="127.60" y2="254.00" stroke="#222" stroke-width="0.5" />
<line x1="136.40" y1="252.60" x2="136.40" y2="254.00" stroke="#222" stroke-width="0.5" />
<line x1="146.50" y1="252.60" x2="146.50" y2="254.00" stroke="#222" stroke-width="0.5" />
<line x1="158.60" y1="252.60" x2="158.60" y2="254.00" stroke="#222" stroke-width="0.5" />
<text transform="translate(95.50 258.60) scale(1 1.15)" font-size="4.3" font-weight="bold" text-anchor="middle" style="stroke-width:0.2px">0.9</text>
<text transform="translate(108.80 258.60) scale(1 1.15)" font-size="4.3" font-weight="bold" text-anchor="middle" style="stroke-width:0.2px">0.8</text>
<text transform="translate(116.30 258.60) scale(1 1.15)" font-size="4.3" font-weight="bold" text-anchor="middle" style="stroke-width:0.2px">0.7</text>
<text transform="translate(127.60 258.60) scale(1 1.15)" font-size="4.3" font-weight="bold" text-anchor="middle" style="stroke-width:0.2px">0.5</text>
<text transform="translate(136.40 258.60) scale(1 1.15)" font-size="4.3" font-weight="bold" text-anchor="middle" style="stroke-width:0.2px">0.3</text>
<text transform="translate(146.50 258.60) scale(1 1.15)" font-size="4.3" font-weight="bold" text-anchor="middle" style="stroke-width:0.2px">0.1</text>
<text transform="translate(158.60 258.60) scale(1 1.15)" font-size="4.3" font-weight="bold" text-anchor="middle" style="stroke-width:0.2px">0.01</text>
<text transform="translate(12.6 277.90) scale(1 1.2)" font-size="4.7" font-weight="bold" style="stroke-width:0.15px">5−year survival</text>
<line x1="86.40" y1="275.20" x2="151.20" y2="275.20" stroke="#222" stroke-width="0.6" />
<line x1="87.50" y1="275.20" x2="87.50" y2="276.60" stroke="#222" stroke-width="0.5" />
<line x1="100.00" y1="275.20" x2="100.00" y2="276.60" stroke="#222" stroke-width="0.5" />
<line x1="108.80" y1="275.20" x2="108.80" y2="276.60" stroke="#222" stroke-width="0.5" />
<line x1="120.00" y1="275.20" x2="120.00" y2="276.60" stroke="#222" stroke-width="0.5" />
<line x1="128.90" y1="275.20" x2="128.90" y2="276.60" stroke="#222" stroke-width="0.5" />
<line x1="139.00" y1="275.20" x2="139.00" y2="276.60" stroke="#222" stroke-width="0.5" />
<line x1="150.60" y1="275.20" x2="150.60" y2="276.60" stroke="#222" stroke-width="0.5" />
<text transform="translate(87.50 281.40) scale(1 1.15)" font-size="4.3" font-weight="bold" text-anchor="middle" style="stroke-width:0.2px">0.9</text>
<text transform="translate(100.00 281.40) scale(1 1.15)" font-size="4.3" font-weight="bold" text-anchor="middle" style="stroke-width:0.2px">0.8</text>
<text transform="translate(108.80 281.40) scale(1 1.15)" font-size="4.3" font-weight="bold" text-anchor="middle" style="stroke-width:0.2px">0.7</text>
<text transform="translate(120.00 281.40) scale(1 1.15)" font-size="4.3" font-weight="bold" text-anchor="middle" style="stroke-width:0.2px">0.5</text>
<text transform="translate(128.90 281.40) scale(1 1.15)" font-size="4.3" font-weight="bold" text-anchor="middle" style="stroke-width:0.2px">0.3</text>
<text transform="translate(139.00 281.40) scale(1 1.15)" font-size="4.3" font-weight="bold" text-anchor="middle" style="stroke-width:0.2px">0.1</text>
<text transform="translate(150.60 281.40) scale(1 1.15)" font-size="4.3" font-weight="bold" text-anchor="middle" style="stroke-width:0.2px">0.01</text>
<text x="211.5" y="126.2" font-size="9.5" font-weight="normal" fill="#222" style="stroke:none">D</text>
<rect x="227.6" y="140.1" width="163.4" height="127.2" fill="none" stroke="#808080" stroke-width="1.25"/>
<line x1="224.40" y1="262.40" x2="227.60" y2="262.40" stroke="#333" stroke-width="0.7" />
<text x="219.3" y="263.10" font-size="4.2" font-weight="bold" text-anchor="middle" transform="rotate(-90 219.3 263.10)">0.0</text>
<line x1="233.50" y1="267.30" x2="233.50" y2="270.60" stroke="#333" stroke-width="0.7" />
<text x="233.50" y="278.20" font-size="4.4" text-anchor="middle" font-weight="bold" fill="#000"  textLength="6.30" lengthAdjust="spacingAndGlyphs">0.0</text>
<line x1="224.40" y1="238.90" x2="227.60" y2="238.90" stroke="#333" stroke-width="0.7" />
<text x="219.3" y="239.60" font-size="4.2" font-weight="bold" text-anchor="middle" transform="rotate(-90 219.3 239.60)">0.2</text>
<line x1="263.68" y1="267.30" x2="263.68" y2="270.60" stroke="#333" stroke-width="0.7" />
<text x="263.68" y="278.20" font-size="4.4" text-anchor="middle" font-weight="bold" fill="#000"  textLength="6.30" lengthAdjust="spacingAndGlyphs">0.2</text>
<line x1="224.40" y1="215.40" x2="227.60" y2="215.40" stroke="#333" stroke-width="0.7" />
<text x="219.3" y="216.10" font-size="4.2" font-weight="bold" text-anchor="middle" transform="rotate(-90 219.3 216.10)">0.4</text>
<line x1="293.86" y1="267.30" x2="293.86" y2="270.60" stroke="#333" stroke-width="0.7" />
<text x="293.86" y="278.20" font-size="4.4" text-anchor="middle" font-weight="bold" fill="#000"  textLength="6.30" lengthAdjust="spacingAndGlyphs">0.4</text>
<line x1="224.40" y1="191.90" x2="227.60" y2="191.90" stroke="#333" stroke-width="0.7" />
<text x="219.3" y="192.60" font-size="4.2" font-weight="bold" text-anchor="middle" transform="rotate(-90 219.3 192.60)">0.6</text>
<line x1="324.04" y1="267.30" x2="324.04" y2="270.60" stroke="#333" stroke-width="0.7" />
<text x="324.04" y="278.20" font-size="4.4" text-anchor="middle" font-weight="bold" fill="#000"  textLength="6.30" lengthAdjust="spacingAndGlyphs">0.6</text>
<line x1="224.40" y1="168.40" x2="227.60" y2="168.40" stroke="#333" stroke-width="0.7" />
<text x="219.3" y="169.10" font-size="4.2" font-weight="bold" text-anchor="middle" transform="rotate(-90 219.3 169.10)">0.8</text>
<line x1="354.22" y1="267.30" x2="354.22" y2="270.60" stroke="#333" stroke-width="0.7" />
<text x="354.22" y="278.20" font-size="4.4" text-anchor="middle" font-weight="bold" fill="#000"  textLength="6.30" lengthAdjust="spacingAndGlyphs">0.8</text>
<line x1="224.40" y1="144.90" x2="227.60" y2="144.90" stroke="#333" stroke-width="0.7" />
<text x="219.3" y="145.60" font-size="4.2" font-weight="bold" text-anchor="middle" transform="rotate(-90 219.3 145.60)">1.0</text>
<line x1="384.40" y1="267.30" x2="384.40" y2="270.60" stroke="#333" stroke-width="0.7" />
<text x="384.40" y="278.20" font-size="4.4" text-anchor="middle" font-weight="bold" fill="#000"  textLength="6.30" lengthAdjust="spacingAndGlyphs">1.0</text>
<text x="211.9" y="203.3" font-size="5.6" font-weight="bold" text-anchor="middle" transform="rotate(-90 211.9 203.3)" textLength="25.3" lengthAdjust="spacingAndGlyphs">Sensitivity</text>
<text x="310.90" y="286.90" font-size="5.6" text-anchor="middle" font-weight="bold" fill="#000"  textLength="36.30" lengthAdjust="spacingAndGlyphs">1−Specificity</text>
<line x1="227.60" y1="267.30" x2="391.00" y2="140.10" stroke="#333" stroke-width="0.8" />
<polyline points="233.30,193.00 269.80,193.00 269.80,169.30 299.10,169.30 299.10,147.60 361.80,147.60 361.80,146.30 374.60,146.30 374.60,145.00 384.40,144.90" fill="none" stroke="#ff2626" stroke-width="1.05" stroke-linejoin="miter" />
<polyline points="233.30,198.80 258.50,198.80 258.50,161.70 281.00,161.70 281.00,152.90 343.80,152.90 343.80,150.00 364.30,150.00 364.30,146.50 384.40,144.90" fill="none" stroke="#f5a733" stroke-width="1.05" stroke-linejoin="miter" />
<polyline points="233.30,262.40 233.30,186.60 258.50,186.60 265.00,183.50 272.00,182.00 282.60,181.80 306.50,181.80 306.50,165.00 348.40,162.90 348.40,149.50 384.40,144.90" fill="none" stroke="#6fcc40" stroke-width="1.05" stroke-linejoin="miter" />
<polyline points="233.30,262.40 325.40,199.30 384.40,144.90" fill="none" stroke="#22bb55" stroke-width="1.05" stroke-linejoin="miter" />
<polyline points="233.30,262.40 265.10,236.20 311.80,159.30 384.40,144.90" fill="none" stroke="#22c8dc" stroke-width="1.05" stroke-linejoin="miter" />
<polyline points="233.30,262.40 259.90,234.10 306.70,159.30 384.40,144.90" fill="none" stroke="#1f68c8" stroke-width="1.05" stroke-linejoin="miter" />
<polyline points="233.30,262.40 280.00,257.40 384.40,144.90" fill="none" stroke="#6a4cc4" stroke-width="1.05" stroke-linejoin="miter" />
<line x1="313.10" y1="225.00" x2="323.50" y2="225.00" stroke="#ff2626" stroke-width="1.4" />
<text transform="translate(326.9 226.75) scale(1 1.1)" font-size="4.95" font-weight="bold" style="stroke-width:0.15px" textLength="37.25" lengthAdjust="spacingAndGlyphs">Risk, AUC=0.852</text>
<line x1="313.10" y1="231.10" x2="323.50" y2="231.10" stroke="#f5a733" stroke-width="1.4" />
<text transform="translate(326.9 232.85) scale(1 1.1)" font-size="4.95" font-weight="bold" style="stroke-width:0.15px" textLength="51.83" lengthAdjust="spacingAndGlyphs">Nomogram, AUC=0.864</text>
<line x1="313.10" y1="237.20" x2="323.50" y2="237.20" stroke="#6fcc40" stroke-width="1.4" />
<text transform="translate(326.9 238.95) scale(1 1.1)" font-size="4.95" font-weight="bold" style="stroke-width:0.15px" textLength="35.84" lengthAdjust="spacingAndGlyphs">Age, AUC=0.790</text>
<line x1="313.10" y1="243.30" x2="323.50" y2="243.30" stroke="#22bb55" stroke-width="1.4" />
<text transform="translate(326.9 245.05) scale(1 1.1)" font-size="4.95" font-weight="bold" style="stroke-width:0.15px" textLength="43.23" lengthAdjust="spacingAndGlyphs">Gender, AUC=0.465</text>
<line x1="313.10" y1="249.40" x2="323.50" y2="249.40" stroke="#22c8dc" stroke-width="1.4" />
<text transform="translate(326.9 251.15) scale(1 1.1)" font-size="4.95" font-weight="bold" style="stroke-width:0.15px" textLength="64.04" lengthAdjust="spacingAndGlyphs">Cytogenetic Risk, AUC=0.645</text>
<line x1="313.10" y1="255.50" x2="323.50" y2="255.50" stroke="#1f68c8" stroke-width="1.4" />
<text transform="translate(326.9 257.25) scale(1 1.1)" font-size="4.95" font-weight="bold" style="stroke-width:0.15px" textLength="60.58" lengthAdjust="spacingAndGlyphs">Molecular Risk, AUC=0.680</text>
<line x1="313.10" y1="261.60" x2="323.50" y2="261.60" stroke="#6a4cc4" stroke-width="1.4" />
<text transform="translate(326.9 263.35) scale(1 1.1)" font-size="4.95" font-weight="bold" style="stroke-width:0.15px" textLength="56.10" lengthAdjust="spacingAndGlyphs">FAB Subtype, AUC=0.367</text>
<text x="3.4" y="298.6" font-size="9.5" font-weight="normal" fill="#222" style="stroke:none">E</text>
<rect x="22.2" y="310.4" width="109.00" height="77.50" fill="none" stroke="#4a4a4a" stroke-width="0.9"/>
<line x1="22.20" y1="310.70" x2="131.20" y2="310.70" stroke="#222" stroke-width="0.9" />
<line x1="22.70" y1="310.40" x2="22.70" y2="311.60" stroke="#666" stroke-width="0.3" />
<line x1="24.70" y1="310.40" x2="24.70" y2="311.60" stroke="#666" stroke-width="0.3" />
<line x1="26.70" y1="310.40" x2="26.70" y2="311.60" stroke="#666" stroke-width="0.3" />
<line x1="28.70" y1="310.40" x2="28.70" y2="311.60" stroke="#666" stroke-width="0.3" />
<line x1="30.70" y1="310.40" x2="30.70" y2="311.60" stroke="#666" stroke-width="0.3" />
<line x1="32.70" y1="310.40" x2="32.70" y2="311.60" stroke="#666" stroke-width="0.3" />
<line x1="34.70" y1="310.40" x2="34.70" y2="311.60" stroke="#666" stroke-width="0.3" />
<line x1="36.70" y1="310.40" x2="36.70" y2="311.60" stroke="#666" stroke-width="0.3" />
<line x1="38.70" y1="310.40" x2="38.70" y2="311.60" stroke="#666" stroke-width="0.3" />
<line x1="40.70" y1="310.40" x2="40.70" y2="311.60" stroke="#666" stroke-width="0.3" />
<line x1="42.70" y1="310.40" x2="42.70" y2="311.60" stroke="#666" stroke-width="0.3" />
<line x1="44.70" y1="310.40" x2="44.70" y2="311.60" stroke="#666" stroke-width="0.3" />
<line x1="46.70" y1="310.40" x2="46.70" y2="311.60" stroke="#666" stroke-width="0.3" />
<line x1="48.70" y1="310.40" x2="48.70" y2="311.60" stroke="#666" stroke-width="0.3" />
<line x1="50.70" y1="310.40" x2="50.70" y2="311.60" stroke="#666" stroke-width="0.3" />
<line x1="52.70" y1="310.40" x2="52.70" y2="311.60" stroke="#666" stroke-width="0.3" />
<line x1="54.70" y1="310.40" x2="54.70" y2="311.60" stroke="#666" stroke-width="0.3" />
<line x1="56.70" y1="310.40" x2="56.70" y2="311.60" stroke="#666" stroke-width="0.3" />
<line x1="58.70" y1="310.40" x2="58.70" y2="311.60" stroke="#666" stroke-width="0.3" />
<line x1="60.70" y1="310.40" x2="60.70" y2="311.60" stroke="#666" stroke-width="0.3" />
<line x1="62.70" y1="310.40" x2="62.70" y2="311.60" stroke="#666" stroke-width="0.3" />
<line x1="64.70" y1="310.40" x2="64.70" y2="311.60" stroke="#666" stroke-width="0.3" />
<line x1="66.70" y1="310.40" x2="66.70" y2="311.60" stroke="#666" stroke-width="0.3" />
<line x1="68.70" y1="310.40" x2="68.70" y2="311.60" stroke="#666" stroke-width="0.3" />
<line x1="70.70" y1="310.40" x2="70.70" y2="311.60" stroke="#666" stroke-width="0.3" />
<line x1="72.70" y1="310.40" x2="72.70" y2="311.60" stroke="#666" stroke-width="0.3" />
<line x1="74.70" y1="310.40" x2="74.70" y2="311.60" stroke="#666" stroke-width="0.3" />
<line x1="76.70" y1="310.40" x2="76.70" y2="311.60" stroke="#666" stroke-width="0.3" />
<line x1="78.70" y1="310.40" x2="78.70" y2="311.60" stroke="#666" stroke-width="0.3" />
<line x1="80.70" y1="310.40" x2="80.70" y2="311.60" stroke="#666" stroke-width="0.3" />
<line x1="82.70" y1="310.40" x2="82.70" y2="311.60" stroke="#666" stroke-width="0.3" />
<line x1="84.70" y1="310.40" x2="84.70" y2="311.60" stroke="#666" stroke-width="0.3" />
<line x1="86.70" y1="310.40" x2="86.70" y2="311.60" stroke="#666" stroke-width="0.3" />
<line x1="88.70" y1="310.40" x2="88.70" y2="311.60" stroke="#666" stroke-width="0.3" />
<line x1="90.70" y1="310.40" x2="90.70" y2="311.60" stroke="#666" stroke-width="0.3" />
<line x1="92.70" y1="310.40" x2="92.70" y2="311.60" stroke="#666" stroke-width="0.3" />
<line x1="94.70" y1="310.40" x2="94.70" y2="311.60" stroke="#666" stroke-width="0.3" />
<line x1="96.70" y1="310.40" x2="96.70" y2="311.60" stroke="#666" stroke-width="0.3" />
<line x1="98.70" y1="310.40" x2="98.70" y2="311.60" stroke="#666" stroke-width="0.3" />
<line x1="100.70" y1="310.40" x2="100.70" y2="311.60" stroke="#666" stroke-width="0.3" />
<line x1="102.70" y1="310.40" x2="102.70" y2="311.60" stroke="#666" stroke-width="0.3" />
<line x1="104.70" y1="310.40" x2="104.70" y2="311.60" stroke="#666" stroke-width="0.3" />
<line x1="106.70" y1="310.40" x2="106.70" y2="311.60" stroke="#666" stroke-width="0.3" />
<line x1="108.70" y1="310.40" x2="108.70" y2="311.60" stroke="#666" stroke-width="0.3" />
<line x1="110.70" y1="310.40" x2="110.70" y2="311.60" stroke="#666" stroke-width="0.3" />
<line x1="112.70" y1="310.40" x2="112.70" y2="311.60" stroke="#666" stroke-width="0.3" />
<line x1="114.70" y1="310.40" x2="114.70" y2="311.60" stroke="#666" stroke-width="0.3" />
<line x1="116.70" y1="310.40" x2="116.70" y2="311.60" stroke="#666" stroke-width="0.3" />
<line x1="118.70" y1="310.40" x2="118.70" y2="311.60" stroke="#666" stroke-width="0.3" />
<line x1="120.70" y1="310.40" x2="120.70" y2="311.60" stroke="#666" stroke-width="0.3" />
<line x1="122.70" y1="310.40" x2="122.70" y2="311.60" stroke="#666" stroke-width="0.3" />
<line x1="124.70" y1="310.40" x2="124.70" y2="311.60" stroke="#666" stroke-width="0.3" />
<line x1="126.70" y1="310.40" x2="126.70" y2="311.60" stroke="#666" stroke-width="0.3" />
<line x1="128.70" y1="310.40" x2="128.70" y2="311.60" stroke="#666" stroke-width="0.3" />
<line x1="26.20" y1="375.95" x2="127.37" y2="321.18" stroke="#d8d8d8" stroke-width="0.75" />
<polyline points="26.20,377.99 86.60,335.48 127.37,322.40" fill="none" stroke="#f46464" stroke-width="1.2" stroke-linejoin="miter" />
<line x1="26.20" y1="385.76" x2="26.20" y2="366.96" stroke="#6a6a6a" stroke-width="0.9" />
<rect x="25.40" y="385.16" width="1.6" height="1.2" fill="#333"/>
<rect x="25.40" y="366.36" width="1.6" height="1.2" fill="#333"/>
<rect x="25.20" y="376.99" width="2.0" height="2.0" fill="#3a6fd0"/>
<line x1="86.60" y1="344.48" x2="86.60" y2="323.22" stroke="#6a6a6a" stroke-width="0.9" />
<rect x="85.80" y="343.88" width="1.6" height="1.2" fill="#333"/>
<rect x="85.80" y="322.62" width="1.6" height="1.2" fill="#333"/>
<rect x="85.60" y="334.48" width="2.0" height="2.0" fill="#3a6fd0"/>
<line x1="127.37" y1="331.40" x2="127.37" y2="313.82" stroke="#6a6a6a" stroke-width="0.9" />
<rect x="126.57" y="330.80" width="1.6" height="1.2" fill="#333"/>
<rect x="126.57" y="313.22" width="1.6" height="1.2" fill="#333"/>
<rect x="126.37" y="321.40" width="2.0" height="2.0" fill="#3a6fd0"/>
<line x1="26.20" y1="387.90" x2="26.20" y2="389.50" stroke="#333" stroke-width="0.6" />
<text x="26.20" y="395.10" font-size="4.3" text-anchor="middle" font-weight="bold" fill="#000" >0.2</text>
<line x1="41.30" y1="387.90" x2="41.30" y2="389.50" stroke="#333" stroke-width="0.6" />
<text x="41.30" y="395.10" font-size="4.3" text-anchor="middle" font-weight="bold" fill="#000" >0.3</text>
<line x1="56.40" y1="387.90" x2="56.40" y2="389.50" stroke="#333" stroke-width="0.6" />
<text x="56.40" y="395.10" font-size="4.3" text-anchor="middle" font-weight="bold" fill="#000" >0.4</text>
<line x1="71.50" y1="387.90" x2="71.50" y2="389.50" stroke="#333" stroke-width="0.6" />
<text x="71.50" y="395.10" font-size="4.3" text-anchor="middle" font-weight="bold" fill="#000" >0.5</text>
<line x1="86.60" y1="387.90" x2="86.60" y2="389.50" stroke="#333" stroke-width="0.6" />
<text x="86.60" y="395.10" font-size="4.3" text-anchor="middle" font-weight="bold" fill="#000" >0.6</text>
<line x1="101.70" y1="387.90" x2="101.70" y2="389.50" stroke="#333" stroke-width="0.6" />
<text x="101.70" y="395.10" font-size="4.3" text-anchor="middle" font-weight="bold" fill="#000" >0.7</text>
<line x1="116.80" y1="387.90" x2="116.80" y2="389.50" stroke="#333" stroke-width="0.6" />
<text x="116.80" y="395.10" font-size="4.3" text-anchor="middle" font-weight="bold" fill="#000" >0.8</text>
<line x1="20.60" y1="375.95" x2="22.20" y2="375.95" stroke="#333" stroke-width="0.6" />
<text x="18.10" y="375.05" font-size="4.7" font-weight="bold" text-anchor="middle" transform="rotate(-90 18.10 375.05)">0.2</text>
<line x1="20.60" y1="359.60" x2="22.20" y2="359.60" stroke="#333" stroke-width="0.6" />
<text x="18.10" y="358.70" font-size="4.7" font-weight="bold" text-anchor="middle" transform="rotate(-90 18.10 358.70)">0.4</text>
<line x1="20.60" y1="343.25" x2="22.20" y2="343.25" stroke="#333" stroke-width="0.6" />
<text x="18.10" y="342.35" font-size="4.7" font-weight="bold" text-anchor="middle" transform="rotate(-90 18.10 342.35)">0.6</text>
<line x1="20.60" y1="326.90" x2="22.20" y2="326.90" stroke="#333" stroke-width="0.6" />
<text x="18.10" y="326.00" font-size="4.7" font-weight="bold" text-anchor="middle" transform="rotate(-90 18.10 326.00)">0.8</text>
<line x1="20.60" y1="310.55" x2="22.20" y2="310.55" stroke="#333" stroke-width="0.6" />
<text x="18.10" y="309.65" font-size="4.7" font-weight="bold" text-anchor="middle" transform="rotate(-90 18.10 309.65)">1.0</text>
<text x="9.60" y="349.10" font-size="5.9" font-weight="bold" text-anchor="middle" transform="rotate(-90 9.60 349.10)" textLength="77" lengthAdjust="spacingAndGlyphs">Actual 1−Year OS(proportion)</text>
<text x="17.10" y="406.30" font-size="5.2" text-anchor="start" font-weight="bold" fill="#000" style="stroke-width:0.16px" textLength="106.50" lengthAdjust="spacingAndGlyphs">Nomogram−Predicted Probability of 1−Year OS</text>
<rect x="154.1" y="309.3" width="109.00" height="79.00" fill="none" stroke="#4a4a4a" stroke-width="0.9"/>
<line x1="154.10" y1="309.60" x2="263.10" y2="309.60" stroke="#222" stroke-width="0.9" />
<line x1="154.60" y1="309.30" x2="154.60" y2="310.50" stroke="#666" stroke-width="0.3" />
<line x1="156.60" y1="309.30" x2="156.60" y2="310.50" stroke="#666" stroke-width="0.3" />
<line x1="158.60" y1="309.30" x2="158.60" y2="310.50" stroke="#666" stroke-width="0.3" />
<line x1="160.60" y1="309.30" x2="160.60" y2="310.50" stroke="#666" stroke-width="0.3" />
<line x1="162.60" y1="309.30" x2="162.60" y2="310.50" stroke="#666" stroke-width="0.3" />
<line x1="164.60" y1="309.30" x2="164.60" y2="310.50" stroke="#666" stroke-width="0.3" />
<line x1="166.60" y1="309.30" x2="166.60" y2="310.50" stroke="#666" stroke-width="0.3" />
<line x1="168.60" y1="309.30" x2="168.60" y2="310.50" stroke="#666" stroke-width="0.3" />
<line x1="170.60" y1="309.30" x2="170.60" y2="310.50" stroke="#666" stroke-width="0.3" />
<line x1="172.60" y1="309.30" x2="172.60" y2="310.50" stroke="#666" stroke-width="0.3" />
<line x1="174.60" y1="309.30" x2="174.60" y2="310.50" stroke="#666" stroke-width="0.3" />
<line x1="176.60" y1="309.30" x2="176.60" y2="310.50" stroke="#666" stroke-width="0.3" />
<line x1="178.60" y1="309.30" x2="178.60" y2="310.50" stroke="#666" stroke-width="0.3" />
<line x1="180.60" y1="309.30" x2="180.60" y2="310.50" stroke="#666" stroke-width="0.3" />
<line x1="182.60" y1="309.30" x2="182.60" y2="310.50" stroke="#666" stroke-width="0.3" />
<line x1="184.60" y1="309.30" x2="184.60" y2="310.50" stroke="#666" stroke-width="0.3" />
<line x1="186.60" y1="309.30" x2="186.60" y2="310.50" stroke="#666" stroke-width="0.3" />
<line x1="188.60" y1="309.30" x2="188.60" y2="310.50" stroke="#666" stroke-width="0.3" />
<line x1="190.60" y1="309.30" x2="190.60" y2="310.50" stroke="#666" stroke-width="0.3" />
<line x1="192.60" y1="309.30" x2="192.60" y2="310.50" stroke="#666" stroke-width="0.3" />
<line x1="194.60" y1="309.30" x2="194.60" y2="310.50" stroke="#666" stroke-width="0.3" />
<line x1="196.60" y1="309.30" x2="196.60" y2="310.50" stroke="#666" stroke-width="0.3" />
<line x1="198.60" y1="309.30" x2="198.60" y2="310.50" stroke="#666" stroke-width="0.3" />
<line x1="200.60" y1="309.30" x2="200.60" y2="310.50" stroke="#666" stroke-width="0.3" />
<line x1="202.60" y1="309.30" x2="202.60" y2="310.50" stroke="#666" stroke-width="0.3" />
<line x1="204.60" y1="309.30" x2="204.60" y2="310.50" stroke="#666" stroke-width="0.3" />
<line x1="206.60" y1="309.30" x2="206.60" y2="310.50" stroke="#666" stroke-width="0.3" />
<line x1="208.60" y1="309.30" x2="208.60" y2="310.50" stroke="#666" stroke-width="0.3" />
<line x1="210.60" y1="309.30" x2="210.60" y2="310.50" stroke="#666" stroke-width="0.3" />
<line x1="212.60" y1="309.30" x2="212.60" y2="310.50" stroke="#666" stroke-width="0.3" />
<line x1="214.60" y1="309.30" x2="214.60" y2="310.50" stroke="#666" stroke-width="0.3" />
<line x1="216.60" y1="309.30" x2="216.60" y2="310.50" stroke="#666" stroke-width="0.3" />
<line x1="218.60" y1="309.30" x2="218.60" y2="310.50" stroke="#666" stroke-width="0.3" />
<line x1="220.60" y1="309.30" x2="220.60" y2="310.50" stroke="#666" stroke-width="0.3" />
<line x1="222.60" y1="309.30" x2="222.60" y2="310.50" stroke="#666" stroke-width="0.3" />
<line x1="224.60" y1="309.30" x2="224.60" y2="310.50" stroke="#666" stroke-width="0.3" />
<line x1="226.60" y1="309.30" x2="226.60" y2="310.50" stroke="#666" stroke-width="0.3" />
<line x1="228.60" y1="309.30" x2="228.60" y2="310.50" stroke="#666" stroke-width="0.3" />
<line x1="230.60" y1="309.30" x2="230.60" y2="310.50" stroke="#666" stroke-width="0.3" />
<line x1="232.60" y1="309.30" x2="232.60" y2="310.50" stroke="#666" stroke-width="0.3" />
<line x1="234.60" y1="309.30" x2="234.60" y2="310.50" stroke="#666" stroke-width="0.3" />
<line x1="236.60" y1="309.30" x2="236.60" y2="310.50" stroke="#666" stroke-width="0.3" />
<line x1="238.60" y1="309.30" x2="238.60" y2="310.50" stroke="#666" stroke-width="0.3" />
<line x1="240.60" y1="309.30" x2="240.60" y2="310.50" stroke="#666" stroke-width="0.3" />
<line x1="242.60" y1="309.30" x2="242.60" y2="310.50" stroke="#666" stroke-width="0.3" />
<line x1="244.60" y1="309.30" x2="244.60" y2="310.50" stroke="#666" stroke-width="0.3" />
<line x1="246.60" y1="309.30" x2="246.60" y2="310.50" stroke="#666" stroke-width="0.3" />
<line x1="248.60" y1="309.30" x2="248.60" y2="310.50" stroke="#666" stroke-width="0.3" />
<line x1="250.60" y1="309.30" x2="250.60" y2="310.50" stroke="#666" stroke-width="0.3" />
<line x1="252.60" y1="309.30" x2="252.60" y2="310.50" stroke="#666" stroke-width="0.3" />
<line x1="254.60" y1="309.30" x2="254.60" y2="310.50" stroke="#666" stroke-width="0.3" />
<line x1="256.60" y1="309.30" x2="256.60" y2="310.50" stroke="#666" stroke-width="0.3" />
<line x1="258.60" y1="309.30" x2="258.60" y2="310.50" stroke="#666" stroke-width="0.3" />
<line x1="260.60" y1="309.30" x2="260.60" y2="310.50" stroke="#666" stroke-width="0.3" />
<line x1="262.60" y1="309.30" x2="262.60" y2="310.50" stroke="#666" stroke-width="0.3" />
<line x1="157.06" y1="384.25" x2="258.38" y2="324.87" stroke="#d8d8d8" stroke-width="0.75" />
<polyline points="157.06,384.69 191.49,361.50 258.38,327.88" fill="none" stroke="#f46464" stroke-width="1.2" stroke-linejoin="miter" />
<line x1="157.06" y1="385.40" x2="157.06" y2="383.98" stroke="#6a6a6a" stroke-width="0.9" />
<rect x="156.26" y="384.80" width="1.6" height="1.2" fill="#333"/>
<rect x="156.26" y="383.38" width="1.6" height="1.2" fill="#333"/>
<rect x="156.06" y="383.69" width="2.0" height="2.0" fill="#3a6fd0"/>
<line x1="191.49" y1="371.68" x2="191.49" y2="343.19" stroke="#6a6a6a" stroke-width="0.9" />
<rect x="190.69" y="371.08" width="1.6" height="1.2" fill="#333"/>
<rect x="190.69" y="342.59" width="1.6" height="1.2" fill="#333"/>
<rect x="190.49" y="360.50" width="2.0" height="2.0" fill="#3a6fd0"/>
<line x1="258.38" y1="340.26" x2="258.38" y2="311.50" stroke="#6a6a6a" stroke-width="0.9" />
<rect x="257.58" y="339.66" width="1.6" height="1.2" fill="#333"/>
<rect x="257.58" y="310.90" width="1.6" height="1.2" fill="#333"/>
<rect x="257.38" y="326.88" width="2.0" height="2.0" fill="#3a6fd0"/>
<line x1="155.10" y1="388.30" x2="155.10" y2="389.90" stroke="#333" stroke-width="0.6" />
<text x="155.10" y="395.40" font-size="4.3" text-anchor="middle" font-weight="bold" fill="#000" >0.0</text>
<line x1="170.20" y1="388.30" x2="170.20" y2="389.90" stroke="#333" stroke-width="0.6" />
<text x="170.20" y="395.40" font-size="4.3" text-anchor="middle" font-weight="bold" fill="#000" >0.1</text>
<line x1="185.30" y1="388.30" x2="185.30" y2="389.90" stroke="#333" stroke-width="0.6" />
<text x="185.30" y="395.40" font-size="4.3" text-anchor="middle" font-weight="bold" fill="#000" >0.2</text>
<line x1="200.40" y1="388.30" x2="200.40" y2="389.90" stroke="#333" stroke-width="0.6" />
<text x="200.40" y="395.40" font-size="4.3" text-anchor="middle" font-weight="bold" fill="#000" >0.3</text>
<line x1="215.50" y1="388.30" x2="215.50" y2="389.90" stroke="#333" stroke-width="0.6" />
<text x="215.50" y="395.40" font-size="4.3" text-anchor="middle" font-weight="bold" fill="#000" >0.4</text>
<line x1="230.60" y1="388.30" x2="230.60" y2="389.90" stroke="#333" stroke-width="0.6" />
<text x="230.60" y="395.40" font-size="4.3" text-anchor="middle" font-weight="bold" fill="#000" >0.5</text>
<line x1="245.70" y1="388.30" x2="245.70" y2="389.90" stroke="#333" stroke-width="0.6" />
<text x="245.70" y="395.40" font-size="4.3" text-anchor="middle" font-weight="bold" fill="#000" >0.6</text>
<line x1="260.80" y1="388.30" x2="260.80" y2="389.90" stroke="#333" stroke-width="0.6" />
<text x="260.80" y="395.40" font-size="4.3" text-anchor="middle" font-weight="bold" fill="#000" >0.7</text>
<line x1="152.50" y1="385.40" x2="154.10" y2="385.40" stroke="#333" stroke-width="0.6" />
<text x="149.30" y="384.50" font-size="4.7" font-weight="bold" text-anchor="middle" transform="rotate(-90 149.30 384.50)">0.0</text>
<line x1="152.50" y1="367.70" x2="154.10" y2="367.70" stroke="#333" stroke-width="0.6" />
<text x="149.30" y="366.80" font-size="4.7" font-weight="bold" text-anchor="middle" transform="rotate(-90 149.30 366.80)">0.2</text>
<line x1="152.50" y1="350.00" x2="154.10" y2="350.00" stroke="#333" stroke-width="0.6" />
<text x="149.30" y="349.10" font-size="4.7" font-weight="bold" text-anchor="middle" transform="rotate(-90 149.30 349.10)">0.4</text>
<line x1="152.50" y1="332.30" x2="154.10" y2="332.30" stroke="#333" stroke-width="0.6" />
<text x="149.30" y="331.40" font-size="4.7" font-weight="bold" text-anchor="middle" transform="rotate(-90 149.30 331.40)">0.6</text>
<line x1="152.50" y1="314.60" x2="154.10" y2="314.60" stroke="#333" stroke-width="0.6" />
<text x="149.30" y="313.70" font-size="4.7" font-weight="bold" text-anchor="middle" transform="rotate(-90 149.30 313.70)">0.8</text>
<text x="144.40" y="346.40" font-size="5.9" font-weight="bold" text-anchor="middle" transform="rotate(-90 144.40 346.40)" textLength="77" lengthAdjust="spacingAndGlyphs">Actual 3−Year OS(proportion)</text>
<text x="153.20" y="406.10" font-size="5.2" text-anchor="start" font-weight="bold" fill="#000" style="stroke-width:0.16px" textLength="104.00" lengthAdjust="spacingAndGlyphs">Nomogram−Predicted Probability of 3−Year OS</text>
<rect x="286.1" y="309.3" width="109.00" height="79.00" fill="none" stroke="#4a4a4a" stroke-width="0.9"/>
<line x1="286.10" y1="309.60" x2="395.10" y2="309.60" stroke="#222" stroke-width="0.9" />
<line x1="286.60" y1="309.30" x2="286.60" y2="310.50" stroke="#666" stroke-width="0.3" />
<line x1="288.60" y1="309.30" x2="288.60" y2="310.50" stroke="#666" stroke-width="0.3" />
<line x1="290.60" y1="309.30" x2="290.60" y2="310.50" stroke="#666" stroke-width="0.3" />
<line x1="292.60" y1="309.30" x2="292.60" y2="310.50" stroke="#666" stroke-width="0.3" />
<line x1="294.60" y1="309.30" x2="294.60" y2="310.50" stroke="#666" stroke-width="0.3" />
<line x1="296.60" y1="309.30" x2="296.60" y2="310.50" stroke="#666" stroke-width="0.3" />
<line x1="298.60" y1="309.30" x2="298.60" y2="310.50" stroke="#666" stroke-width="0.3" />
<line x1="300.60" y1="309.30" x2="300.60" y2="310.50" stroke="#666" stroke-width="0.3" />
<line x1="302.60" y1="309.30" x2="302.60" y2="310.50" stroke="#666" stroke-width="0.3" />
<line x1="304.60" y1="309.30" x2="304.60" y2="310.50" stroke="#666" stroke-width="0.3" />
<line x1="306.60" y1="309.30" x2="306.60" y2="310.50" stroke="#666" stroke-width="0.3" />
<line x1="308.60" y1="309.30" x2="308.60" y2="310.50" stroke="#666" stroke-width="0.3" />
<line x1="310.60" y1="309.30" x2="310.60" y2="310.50" stroke="#666" stroke-width="0.3" />
<line x1="312.60" y1="309.30" x2="312.60" y2="310.50" stroke="#666" stroke-width="0.3" />
<line x1="314.60" y1="309.30" x2="314.60" y2="310.50" stroke="#666" stroke-width="0.3" />
<line x1="316.60" y1="309.30" x2="316.60" y2="310.50" stroke="#666" stroke-width="0.3" />
<line x1="318.60" y1="309.30" x2="318.60" y2="310.50" stroke="#666" stroke-width="0.3" />
<line x1="320.60" y1="309.30" x2="320.60" y2="310.50" stroke="#666" stroke-width="0.3" />
<line x1="322.60" y1="309.30" x2="322.60" y2="310.50" stroke="#666" stroke-width="0.3" />
<line x1="324.60" y1="309.30" x2="324.60" y2="310.50" stroke="#666" stroke-width="0.3" />
<line x1="326.60" y1="309.30" x2="326.60" y2="310.50" stroke="#666" stroke-width="0.3" />
<line x1="328.60" y1="309.30" x2="328.60" y2="310.50" stroke="#666" stroke-width="0.3" />
<line x1="330.60" y1="309.30" x2="330.60" y2="310.50" stroke="#666" stroke-width="0.3" />
<line x1="332.60" y1="309.30" x2="332.60" y2="310.50" stroke="#666" stroke-width="0.3" />
<line x1="334.60" y1="309.30" x2="334.60" y2="310.50" stroke="#666" stroke-width="0.3" />
<line x1="336.60" y1="309.30" x2="336.60" y2="310.50" stroke="#666" stroke-width="0.3" />
<line x1="338.60" y1="309.30" x2="338.60" y2="310.50" stroke="#666" stroke-width="0.3" />
<line x1="340.60" y1="309.30" x2="340.60" y2="310.50" stroke="#666" stroke-width="0.3" />
<line x1="342.60" y1="309.30" x2="342.60" y2="310.50" stroke="#666" stroke-width="0.3" />
<line x1="344.60" y1="309.30" x2="344.60" y2="310.50" stroke="#666" stroke-width="0.3" />
<line x1="346.60" y1="309.30" x2="346.60" y2="310.50" stroke="#666" stroke-width="0.3" />
<line x1="348.60" y1="309.30" x2="348.60" y2="310.50" stroke="#666" stroke-width="0.3" />
<line x1="350.60" y1="309.30" x2="350.60" y2="310.50" stroke="#666" stroke-width="0.3" />
<line x1="352.60" y1="309.30" x2="352.60" y2="310.50" stroke="#666" stroke-width="0.3" />
<line x1="354.60" y1="309.30" x2="354.60" y2="310.50" stroke="#666" stroke-width="0.3" />
<line x1="356.60" y1="309.30" x2="356.60" y2="310.50" stroke="#666" stroke-width="0.3" />
<line x1="358.60" y1="309.30" x2="358.60" y2="310.50" stroke="#666" stroke-width="0.3" />
<line x1="360.60" y1="309.30" x2="360.60" y2="310.50" stroke="#666" stroke-width="0.3" />
<line x1="362.60" y1="309.30" x2="362.60" y2="310.50" stroke="#666" stroke-width="0.3" />
<line x1="364.60" y1="309.30" x2="364.60" y2="310.50" stroke="#666" stroke-width="0.3" />
<line x1="366.60" y1="309.30" x2="366.60" y2="310.50" stroke="#666" stroke-width="0.3" />
<line x1="368.60" y1="309.30" x2="368.60" y2="310.50" stroke="#666" stroke-width="0.3" />
<line x1="370.60" y1="309.30" x2="370.60" y2="310.50" stroke="#666" stroke-width="0.3" />
<line x1="372.60" y1="309.30" x2="372.60" y2="310.50" stroke="#666" stroke-width="0.3" />
<line x1="374.60" y1="309.30" x2="374.60" y2="310.50" stroke="#666" stroke-width="0.3" />
<line x1="376.60" y1="309.30" x2="376.60" y2="310.50" stroke="#666" stroke-width="0.3" />
<line x1="378.60" y1="309.30" x2="378.60" y2="310.50" stroke="#666" stroke-width="0.3" />
<line x1="380.60" y1="309.30" x2="380.60" y2="310.50" stroke="#666" stroke-width="0.3" />
<line x1="382.60" y1="309.30" x2="382.60" y2="310.50" stroke="#666" stroke-width="0.3" />
<line x1="384.60" y1="309.30" x2="384.60" y2="310.50" stroke="#666" stroke-width="0.3" />
<line x1="386.60" y1="309.30" x2="386.60" y2="310.50" stroke="#666" stroke-width="0.3" />
<line x1="388.60" y1="309.30" x2="388.60" y2="310.50" stroke="#666" stroke-width="0.3" />
<line x1="390.60" y1="309.30" x2="390.60" y2="310.50" stroke="#666" stroke-width="0.3" />
<line x1="392.60" y1="309.30" x2="392.60" y2="310.50" stroke="#666" stroke-width="0.3" />
<line x1="394.60" y1="309.30" x2="394.60" y2="310.50" stroke="#666" stroke-width="0.3" />
<line x1="289.06" y1="384.25" x2="390.38" y2="324.87" stroke="#d8d8d8" stroke-width="0.75" />
<polyline points="289.06,384.69 323.49,361.50 390.38,327.88" fill="none" stroke="#f46464" stroke-width="1.2" stroke-linejoin="miter" />
<line x1="289.06" y1="385.40" x2="289.06" y2="383.98" stroke="#6a6a6a" stroke-width="0.9" />
<rect x="288.26" y="384.80" width="1.6" height="1.2" fill="#333"/>
<rect x="288.26" y="383.38" width="1.6" height="1.2" fill="#333"/>
<rect x="288.06" y="383.69" width="2.0" height="2.0" fill="#3a6fd0"/>
<line x1="323.49" y1="371.68" x2="323.49" y2="343.19" stroke="#6a6a6a" stroke-width="0.9" />
<rect x="322.69" y="371.08" width="1.6" height="1.2" fill="#333"/>
<rect x="322.69" y="342.59" width="1.6" height="1.2" fill="#333"/>
<rect x="322.49" y="360.50" width="2.0" height="2.0" fill="#3a6fd0"/>
<line x1="390.38" y1="340.26" x2="390.38" y2="311.50" stroke="#6a6a6a" stroke-width="0.9" />
<rect x="389.58" y="339.66" width="1.6" height="1.2" fill="#333"/>
<rect x="389.58" y="310.90" width="1.6" height="1.2" fill="#333"/>
<rect x="389.38" y="326.88" width="2.0" height="2.0" fill="#3a6fd0"/>
<line x1="287.10" y1="388.30" x2="287.10" y2="389.90" stroke="#333" stroke-width="0.6" />
<text x="287.10" y="395.40" font-size="4.3" text-anchor="middle" font-weight="bold" fill="#000" >0.0</text>
<line x1="302.20" y1="388.30" x2="302.20" y2="389.90" stroke="#333" stroke-width="0.6" />
<text x="302.20" y="395.40" font-size="4.3" text-anchor="middle" font-weight="bold" fill="#000" >0.1</text>
<line x1="317.30" y1="388.30" x2="317.30" y2="389.90" stroke="#333" stroke-width="0.6" />
<text x="317.30" y="395.40" font-size="4.3" text-anchor="middle" font-weight="bold" fill="#000" >0.2</text>
<line x1="332.40" y1="388.30" x2="332.40" y2="389.90" stroke="#333" stroke-width="0.6" />
<text x="332.40" y="395.40" font-size="4.3" text-anchor="middle" font-weight="bold" fill="#000" >0.3</text>
<line x1="347.50" y1="388.30" x2="347.50" y2="389.90" stroke="#333" stroke-width="0.6" />
<text x="347.50" y="395.40" font-size="4.3" text-anchor="middle" font-weight="bold" fill="#000" >0.4</text>
<line x1="362.60" y1="388.30" x2="362.60" y2="389.90" stroke="#333" stroke-width="0.6" />
<text x="362.60" y="395.40" font-size="4.3" text-anchor="middle" font-weight="bold" fill="#000" >0.5</text>
<line x1="377.70" y1="388.30" x2="377.70" y2="389.90" stroke="#333" stroke-width="0.6" />
<text x="377.70" y="395.40" font-size="4.3" text-anchor="middle" font-weight="bold" fill="#000" >0.6</text>
<line x1="392.80" y1="388.30" x2="392.80" y2="389.90" stroke="#333" stroke-width="0.6" />
<text x="392.80" y="395.40" font-size="4.3" text-anchor="middle" font-weight="bold" fill="#000" >0.7</text>
<line x1="284.50" y1="385.40" x2="286.10" y2="385.40" stroke="#333" stroke-width="0.6" />
<text x="281.30" y="384.50" font-size="4.7" font-weight="bold" text-anchor="middle" transform="rotate(-90 281.30 384.50)">0.0</text>
<line x1="284.50" y1="367.70" x2="286.10" y2="367.70" stroke="#333" stroke-width="0.6" />
<text x="281.30" y="366.80" font-size="4.7" font-weight="bold" text-anchor="middle" transform="rotate(-90 281.30 366.80)">0.2</text>
<line x1="284.50" y1="350.00" x2="286.10" y2="350.00" stroke="#333" stroke-width="0.6" />
<text x="281.30" y="349.10" font-size="4.7" font-weight="bold" text-anchor="middle" transform="rotate(-90 281.30 349.10)">0.4</text>
<line x1="284.50" y1="332.30" x2="286.10" y2="332.30" stroke="#333" stroke-width="0.6" />
<text x="281.30" y="331.40" font-size="4.7" font-weight="bold" text-anchor="middle" transform="rotate(-90 281.30 331.40)">0.6</text>
<line x1="284.50" y1="314.60" x2="286.10" y2="314.60" stroke="#333" stroke-width="0.6" />
<text x="281.30" y="313.70" font-size="4.7" font-weight="bold" text-anchor="middle" transform="rotate(-90 281.30 313.70)">0.8</text>
<text x="276.40" y="346.40" font-size="5.9" font-weight="bold" text-anchor="middle" transform="rotate(-90 276.40 346.40)" textLength="77" lengthAdjust="spacingAndGlyphs">Actual 4−Year OS(proportion)</text>
<text x="285.20" y="404.60" font-size="5.2" text-anchor="start" font-weight="bold" fill="#000" style="stroke-width:0.16px" textLength="104.00" lengthAdjust="spacingAndGlyphs">Nomogram−Predicted Probability of 4−Year OS</text>
<text x="4.0" y="428.8" font-size="9.5" font-weight="normal" fill="#222" style="stroke:none">F</text>
<text transform="translate(41.40 428.70) scale(1 1.079)" font-size="4.45" font-weight="bold" text-anchor="start" style="stroke-width:0.2px">pvalue</text>
<text transform="translate(79.10 428.70) scale(1 1.079)" font-size="4.45" font-weight="bold" text-anchor="start" style="stroke-width:0.2px">Hazard ratio</text>
<text transform="translate(12.40 446.30) scale(1 1.079)" font-size="4.45" font-weight="bold" text-anchor="start" style="stroke-width:0.2px">Age</text>
<text transform="translate(47.40 446.30) scale(1 1.079)" font-size="4.45" font-weight="bold" text-anchor="start" style="stroke-width:0.2px">&lt;0.001</text>
<text transform="translate(65.00 446.30) scale(1 1.079)" font-size="4.45" font-weight="bold" text-anchor="start" style="stroke-width:0.2px">1.042(1.025−1.058)</text>
<text transform="translate(12.40 462.00) scale(1 1.079)" font-size="4.45" font-weight="bold" text-anchor="start" style="stroke-width:0.2px">Gender</text>
<text transform="translate(48.20 462.00) scale(1 1.079)" font-size="4.45" font-weight="bold" text-anchor="start" style="stroke-width:0.2px">0.829</text>
<text transform="translate(65.00 462.00) scale(1 1.079)" font-size="4.45" font-weight="bold" text-anchor="start" style="stroke-width:0.2px">1.049(0.681−1.615)</text>
<text transform="translate(12.40 479.20) scale(1 1.079)" font-size="4.45" font-weight="bold" text-anchor="start" style="stroke-width:0.2px">Cytogenetic Risk</text>
<text transform="translate(47.50 479.20) scale(1 1.079)" font-size="4.45" font-weight="bold" text-anchor="start" style="stroke-width:0.2px">&lt; 0.001</text>
<text transform="translate(65.00 479.20) scale(1 1.079)" font-size="4.45" font-weight="bold" text-anchor="start" style="stroke-width:0.2px">1.829(1.323−2.528)</text>
<text transform="translate(12.40 495.50) scale(1 1.079)" font-size="4.45" font-weight="bold" text-anchor="start" style="stroke-width:0.2px">Molecular Risk</text>
<text transform="translate(48.00 495.50) scale(1 1.079)" font-size="4.45" font-weight="bold" text-anchor="start" style="stroke-width:0.2px">&lt;0.001</text>
<text transform="translate(65.00 495.50) scale(1 1.079)" font-size="4.45" font-weight="bold" text-anchor="start" style="stroke-width:0.2px">1.906(1.387−2.619)</text>
<text transform="translate(12.40 512.70) scale(1 1.079)" font-size="4.45" font-weight="bold" text-anchor="start" style="stroke-width:0.2px">FAB Subtype</text>
<text transform="translate(47.00 512.70) scale(1 1.079)" font-size="4.45" font-weight="bold" text-anchor="start" style="stroke-width:0.2px">0.009</text>
<text transform="translate(65.00 512.70) scale(1 1.079)" font-size="4.45" font-weight="bold" text-anchor="start" style="stroke-width:0.2px">0.639(0.456−0.896)</text>
<text transform="translate(12.40 528.10) scale(1 1.079)" font-size="4.45" font-weight="bold" text-anchor="start" style="stroke-width:0.2px">Nomogram</text>
<text transform="translate(45.30 529.80) scale(1 1.079)" font-size="4.45" font-weight="bold" text-anchor="start" style="stroke-width:0.2px">&lt;0.001</text>
<text transform="translate(65.00 529.80) scale(1 1.079)" font-size="4.45" font-weight="bold" text-anchor="start" style="stroke-width:0.2px">2.973(2.316−3.816)</text>
<line x1="137.50" y1="423.60" x2="137.50" y2="530.50" stroke="#111" stroke-width="1.25" stroke-dasharray="3.3,4.7"/>
<line x1="115.00" y1="530.50" x2="192.40" y2="530.50" stroke="#1a1a1a" stroke-width="1.0" />
<line x1="120.00" y1="530.50" x2="120.00" y2="533.30" stroke="#222" stroke-width="0.75" />
<line x1="131.40" y1="530.50" x2="131.40" y2="533.30" stroke="#222" stroke-width="0.75" />
<line x1="148.30" y1="530.50" x2="148.30" y2="533.30" stroke="#222" stroke-width="0.75" />
<line x1="159.00" y1="530.50" x2="159.00" y2="533.30" stroke="#222" stroke-width="0.75" />
<line x1="170.00" y1="530.50" x2="170.00" y2="533.30" stroke="#222" stroke-width="0.75" />
<line x1="181.00" y1="530.50" x2="181.00" y2="533.30" stroke="#222" stroke-width="0.75" />
<line x1="192.00" y1="530.50" x2="192.00" y2="533.30" stroke="#222" stroke-width="0.75" />
<text x="120.60" y="539.74" font-size="5.4" text-anchor="middle" font-weight="bold" fill="#000" >0.0</text>
<text x="137.40" y="539.74" font-size="5.4" text-anchor="middle" font-weight="bold" fill="#000" >1.0</text>
<text x="159.00" y="539.74" font-size="5.4" text-anchor="middle" font-weight="bold" fill="#000" >2.0</text>
<text x="180.40" y="539.74" font-size="5.4" text-anchor="middle" font-weight="bold" fill="#000" >3.0</text>
<text x="155.60" y="548.04" font-size="5.4" text-anchor="middle" font-weight="bold" fill="#000" >Hazard ratio</text>
<rect x="135.90" y="441.20" width="4.4" height="4.4" fill="#ff2a2a"/>
<line x1="130.36" y1="460.08" x2="150.39" y2="460.08" stroke="#22327f" stroke-width="1.25" />
<line x1="130.36" y1="458.18" x2="130.36" y2="461.98" stroke="#22327f" stroke-width="1.15" />
<line x1="150.39" y1="458.18" x2="150.39" y2="461.98" stroke="#22327f" stroke-width="1.15" />
<rect x="136.05" y="457.88" width="4.4" height="4.4" fill="#ff2a2a"/>
<line x1="144.13" y1="476.76" x2="169.98" y2="476.76" stroke="#22327f" stroke-width="1.25" />
<line x1="144.13" y1="474.86" x2="144.13" y2="478.66" stroke="#22327f" stroke-width="1.15" />
<line x1="169.98" y1="474.86" x2="169.98" y2="478.66" stroke="#22327f" stroke-width="1.15" />
<rect x="152.78" y="474.56" width="4.4" height="4.4" fill="#ff2a2a"/>
<line x1="145.50" y1="493.44" x2="171.93" y2="493.44" stroke="#22327f" stroke-width="1.25" />
<line x1="145.50" y1="491.54" x2="145.50" y2="495.34" stroke="#22327f" stroke-width="1.15" />
<line x1="171.93" y1="491.54" x2="171.93" y2="495.34" stroke="#22327f" stroke-width="1.15" />
<rect x="154.43" y="491.24" width="4.4" height="4.4" fill="#ff2a2a"/>
<line x1="125.53" y1="510.12" x2="134.97" y2="510.12" stroke="#22327f" stroke-width="1.25" />
<line x1="125.53" y1="508.22" x2="125.53" y2="512.02" stroke="#22327f" stroke-width="1.15" />
<line x1="134.97" y1="508.22" x2="134.97" y2="512.02" stroke="#22327f" stroke-width="1.15" />
<rect x="127.26" y="507.92" width="4.4" height="4.4" fill="#22bb44"/>
<line x1="165.43" y1="526.80" x2="197.60" y2="526.80" stroke="#22327f" stroke-width="1.25" />
<line x1="165.43" y1="524.90" x2="165.43" y2="528.70" stroke="#22327f" stroke-width="1.15" />
<line x1="197.60" y1="524.90" x2="197.60" y2="528.70" stroke="#22327f" stroke-width="1.15" />
<rect x="177.32" y="524.60" width="4.4" height="4.4" fill="#ff2a2a"/>
<text x="210.8" y="429.9" font-size="9.5" font-weight="normal" fill="#222" style="stroke:none">G</text>
<text transform="translate(235.20 428.00) scale(1 1.079)" font-size="4.45" font-weight="bold" text-anchor="start" style="stroke-width:0.2px">pvalue</text>
<text transform="translate(272.30 428.50) scale(1 1.079)" font-size="4.45" font-weight="bold" text-anchor="start" style="stroke-width:0.2px">Hazard ratio</text>
<text transform="translate(209.30 445.10) scale(1 1.079)" font-size="4.45" font-weight="bold" text-anchor="start" style="stroke-width:0.2px">Age</text>
<text transform="translate(241.40 445.10) scale(1 1.079)" font-size="4.45" font-weight="bold" text-anchor="start" style="stroke-width:0.2px">0.230</text>
<text transform="translate(258.40 445.10) scale(1 1.079)" font-size="4.45" font-weight="bold" text-anchor="start" style="stroke-width:0.2px">1.013(0.992−1.035)</text>
<text transform="translate(209.30 461.90) scale(1 1.079)" font-size="4.45" font-weight="bold" text-anchor="start" style="stroke-width:0.2px">Gender</text>
<text transform="translate(241.40 461.90) scale(1 1.079)" font-size="4.45" font-weight="bold" text-anchor="start" style="stroke-width:0.2px">0.808</text>
<text transform="translate(258.40 461.90) scale(1 1.079)" font-size="4.45" font-weight="bold" text-anchor="start" style="stroke-width:0.2px">1.061(0.657−1.714)</text>
<text transform="translate(209.30 478.60) scale(1 1.079)" font-size="4.45" font-weight="bold" text-anchor="start" style="stroke-width:0.2px">Cytogenic Risk</text>
<text transform="translate(241.20 478.60) scale(1 1.079)" font-size="4.45" font-weight="bold" text-anchor="start" style="stroke-width:0.2px">0.909</text>
<text transform="translate(258.40 478.60) scale(1 1.079)" font-size="4.45" font-weight="bold" text-anchor="start" style="stroke-width:0.2px">0.926(0.248−3.462)</text>
<text transform="translate(209.30 495.30) scale(1 1.079)" font-size="4.45" font-weight="bold" text-anchor="start" style="stroke-width:0.2px">Molecular Risk</text>
<text transform="translate(241.90 495.30) scale(1 1.079)" font-size="4.45" font-weight="bold" text-anchor="start" style="stroke-width:0.2px">0.782</text>
<text transform="translate(258.40 495.30) scale(1 1.079)" font-size="4.45" font-weight="bold" text-anchor="start" style="stroke-width:0.2px">1.220(0.299−4.981)</text>
<text transform="translate(209.30 512.00) scale(1 1.079)" font-size="4.45" font-weight="bold" text-anchor="start" style="stroke-width:0.2px">FAB Subtype</text>
<text transform="translate(241.40 512.00) scale(1 1.079)" font-size="4.45" font-weight="bold" text-anchor="start" style="stroke-width:0.2px">0.273</text>
<text transform="translate(258.40 512.00) scale(1 1.079)" font-size="4.45" font-weight="bold" text-anchor="start" style="stroke-width:0.2px">0.810(0.555−1.181)</text>
<text transform="translate(209.30 527.60) scale(1 1.079)" font-size="4.45" font-weight="bold" text-anchor="start" style="stroke-width:0.2px">Nomogram</text>
<text transform="translate(239.50 528.60) scale(1 1.079)" font-size="4.45" font-weight="bold" text-anchor="start" style="stroke-width:0.2px">&lt;0.001</text>
<text transform="translate(258.40 528.60) scale(1 1.079)" font-size="4.45" font-weight="bold" text-anchor="start" style="stroke-width:0.2px">2.379(1.545−3.665)</text>
<line x1="324.60" y1="423.80" x2="324.60" y2="531.10" stroke="#111" stroke-width="1.25" stroke-dasharray="3.3,4.7"/>
<line x1="307.70" y1="531.10" x2="374.90" y2="531.10" stroke="#1a1a1a" stroke-width="1.0" />
<line x1="307.70" y1="531.10" x2="307.70" y2="533.90" stroke="#222" stroke-width="0.75" />
<line x1="324.50" y1="531.10" x2="324.50" y2="533.90" stroke="#222" stroke-width="0.75" />
<line x1="341.30" y1="531.10" x2="341.30" y2="533.90" stroke="#222" stroke-width="0.75" />
<line x1="358.10" y1="531.10" x2="358.10" y2="533.90" stroke="#222" stroke-width="0.75" />
<line x1="374.90" y1="531.10" x2="374.90" y2="533.90" stroke="#222" stroke-width="0.75" />
<text x="307.70" y="539.97" font-size="5.5" text-anchor="middle" font-weight="normal" fill="#000" >0</text>
<text x="324.50" y="539.97" font-size="5.5" text-anchor="middle" font-weight="normal" fill="#000" >1</text>
<text x="341.30" y="539.97" font-size="5.5" text-anchor="middle" font-weight="normal" fill="#000" >2</text>
<text x="358.10" y="539.97" font-size="5.5" text-anchor="middle" font-weight="normal" fill="#000" >3</text>
<text x="374.90" y="539.97" font-size="5.5" text-anchor="middle" font-weight="normal" fill="#000" >4</text>
<text x="349.90" y="546.94" font-size="5.4" text-anchor="middle" font-weight="bold" fill="#000" >Hazard ratio</text>
<rect x="322.52" y="441.20" width="4.4" height="4.4" fill="#ff2a2a"/>
<line x1="318.74" y1="459.90" x2="336.50" y2="459.90" stroke="#22327f" stroke-width="1.25" />
<line x1="318.74" y1="458.00" x2="318.74" y2="461.80" stroke="#22327f" stroke-width="1.15" />
<line x1="336.50" y1="458.00" x2="336.50" y2="461.80" stroke="#22327f" stroke-width="1.15" />
<rect x="323.32" y="457.70" width="4.4" height="4.4" fill="#ff2a2a"/>
<line x1="311.87" y1="476.90" x2="365.86" y2="476.90" stroke="#22327f" stroke-width="1.25" />
<line x1="311.87" y1="475.00" x2="311.87" y2="478.80" stroke="#22327f" stroke-width="1.15" />
<line x1="365.86" y1="475.00" x2="365.86" y2="478.80" stroke="#22327f" stroke-width="1.15" />
<rect x="321.06" y="474.70" width="4.4" height="4.4" fill="#ff2a2a"/>
<line x1="312.72" y1="493.80" x2="391.38" y2="493.80" stroke="#22327f" stroke-width="1.25" />
<line x1="312.72" y1="491.90" x2="312.72" y2="495.70" stroke="#22327f" stroke-width="1.15" />
<line x1="391.38" y1="491.90" x2="391.38" y2="495.70" stroke="#22327f" stroke-width="1.15" />
<rect x="326.00" y="491.60" width="4.4" height="4.4" fill="#ff2a2a"/>
<line x1="317.02" y1="510.30" x2="327.54" y2="510.30" stroke="#22327f" stroke-width="1.25" />
<line x1="317.02" y1="508.40" x2="317.02" y2="512.20" stroke="#22327f" stroke-width="1.15" />
<line x1="327.54" y1="508.40" x2="327.54" y2="512.20" stroke="#22327f" stroke-width="1.15" />
<rect x="319.11" y="508.10" width="4.4" height="4.4" fill="#22bb44"/>
<line x1="333.66" y1="527.10" x2="369.27" y2="527.10" stroke="#22327f" stroke-width="1.25" />
<line x1="333.66" y1="525.20" x2="333.66" y2="529.00" stroke="#22327f" stroke-width="1.15" />
<line x1="369.27" y1="525.20" x2="369.27" y2="529.00" stroke="#22327f" stroke-width="1.15" />
<rect x="345.47" y="524.90" width="4.4" height="4.4" fill="#ff2a2a"/>
</svg>
</body></html>
